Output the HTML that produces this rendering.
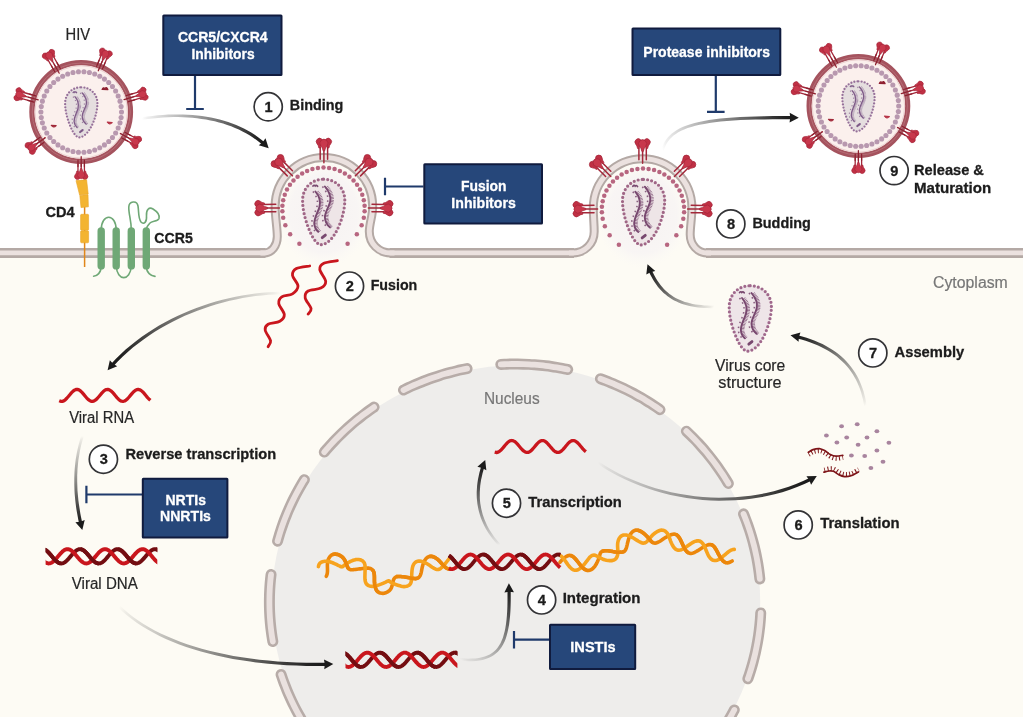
<!DOCTYPE html>
<html lang="en"><head><meta charset="utf-8"><title>HIV life cycle and antiretroviral drug targets</title>
<style>
html,body{margin:0;padding:0;background:#fff;}
body{width:1024px;height:717px;overflow:hidden;}
svg{display:block;}
text{font-family:"Liberation Sans",sans-serif;}
svg{will-change:transform;}
</style></head><body>
<svg width="1024" height="717" viewBox="0 0 1024 717">
<defs>
<g id="spike"><path d="M-3.7,5.7 V-6 M3.7,5.7 V-6 M0,9.3 V-4" stroke="#A3283A" stroke-width="1.5" fill="none" stroke-linecap="round"/><path d="M-6.94,-9.84 A3.35,3.35 0 1 1 -1.66,-9.84 Q-3.13,-8.38 -3.55,-5.50 L-5.05,-5.50 Q-5.47,-8.38 -6.94,-9.84 Z" fill="#C03044" stroke="#A52438" stroke-width="0.7"/><path d="M1.66,-9.84 A3.35,3.35 0 1 1 6.94,-9.84 Q5.47,-8.38 5.05,-5.50 L3.55,-5.50 Q3.13,-8.38 1.66,-9.84 Z" fill="#C03044" stroke="#A52438" stroke-width="0.7"/><path d="M-3.15,-7.74 A4.0,4.0 0 1 1 3.15,-7.74 Q1.40,-6.00 0.75,-2.60 L-0.75,-2.60 Q-1.40,-6.00 -3.15,-7.74 Z" fill="#C8384C" stroke="#A52438" stroke-width="0.7"/></g>

<g id="capsidA">
  <path d="M0,-32.7 C12,-32.7 21.2,-24 21.2,-11.5 C21.2,2 14,22 5.5,29 C2.5,31.8 -0.5,32.8 -2.6,32.8 C-6,32.8 -10,28 -13.5,20 C-17,12 -21,0 -21,-11.5 C-21,-24 -12,-32.7 0,-32.7 Z" fill="#EEE5E8"/>
  <path d="M0,-32.7 C12,-32.7 21.2,-24 21.2,-11.5 C21.2,2 14,22 5.5,29 C2.5,31.8 -0.5,32.8 -2.6,32.8 C-6,32.8 -10,28 -13.5,20 C-17,12 -21,0 -21,-11.5 C-21,-24 -12,-32.7 0,-32.7 Z" fill="none" stroke="#A0688C" stroke-width="3.2" stroke-linecap="round" stroke-dasharray="0 4.12"/>
  <g fill="none" stroke="#78486F">
    <path d="M-8.2,-20.4 C-4.5,-16 -2.6,-11 -4.2,-5 C-5.8,1 -9.6,6 -9.3,12 C-9.1,15 -7.5,18 -5.4,19.8" stroke-width="1.9" stroke-linecap="round"/>
    <path d="M-8.2,-20.4 C-4.5,-16 -2.6,-11 -4.2,-5 C-5.8,1 -9.6,6 -9.3,12 C-9.1,15 -7.5,18 -5.4,19.8" stroke-width="3.2" stroke-dasharray="0.7 0.75" opacity="0.85" transform="translate(1.9,0.3)"/>
    <path d="M-8.2,-20.4 C-4.5,-16 -2.6,-11 -4.2,-5 C-5.8,1 -9.6,6 -9.3,12 C-9.1,15 -7.5,18 -5.4,19.8" stroke-width="1.6" stroke-dasharray="1.5 3.6" opacity="0.85" transform="translate(-2.5,0)"/>
    <path d="M1.3,-25.4 C5,-21 7.6,-16 6.6,-10.5 C5.5,-5 1.2,0 1.3,5.3 C1.4,9.5 3.5,13 6.3,15.3" stroke-width="1.9" stroke-linecap="round"/>
    <path d="M1.3,-25.4 C5,-21 7.6,-16 6.6,-10.5 C5.5,-5 1.2,0 1.3,5.3 C1.4,9.5 3.5,13 6.3,15.3" stroke-width="3.2" stroke-dasharray="0.7 0.75" opacity="0.85" transform="translate(1.9,0.3)"/>
    <path d="M1.3,-25.4 C5,-21 7.6,-16 6.6,-10.5 C5.5,-5 1.2,0 1.3,5.3 C1.4,9.5 3.5,13 6.3,15.3" stroke-width="1.6" stroke-dasharray="1.5 3.6" opacity="0.85" transform="translate(-2.5,0)"/>
    <path d="M-10.6,-25.8 q1.2,-1.6 2.2,-0.2 q1.2,-1.4 2.4,0.4" stroke-width="1.7" stroke-linecap="round"/>
    <path d="M-1.4,25.8 l3.2,-2.6" stroke-width="2.8" stroke-linecap="round"/>
  </g>
</g>

<g id="capsidB">
  <path d="M0,-32.7 C12,-32.7 21.2,-24 21.2,-11.5 C21.2,2 14,22 5.5,29 C2.5,31.8 -0.5,32.8 -2.6,32.8 C-6,32.8 -10,28 -13.5,20 C-17,12 -21,0 -21,-11.5 C-21,-24 -12,-32.7 0,-32.7 Z" fill="#EEE5E7"/>
  <path d="M0,-32.7 C12,-32.7 21.2,-24 21.2,-11.5 C21.2,2 14,22 5.5,29 C2.5,31.8 -0.5,32.8 -2.6,32.8 C-6,32.8 -10,28 -13.5,20 C-17,12 -21,0 -21,-11.5 C-21,-24 -12,-32.7 0,-32.7 Z" fill="none" stroke="#A06686" stroke-width="3.2" stroke-linecap="round" stroke-dasharray="0 4.12"/>
  <g fill="none" stroke="#78486F">
    <path d="M-8.2,-20.4 C-4.5,-16 -2.6,-11 -4.2,-5 C-5.8,1 -9.6,6 -9.3,12 C-9.1,15 -7.5,18 -5.4,19.8" stroke-width="1.9" stroke-linecap="round"/>
    <path d="M-8.2,-20.4 C-4.5,-16 -2.6,-11 -4.2,-5 C-5.8,1 -9.6,6 -9.3,12 C-9.1,15 -7.5,18 -5.4,19.8" stroke-width="3.2" stroke-dasharray="0.7 0.75" opacity="0.85" transform="translate(1.9,0.3)"/>
    <path d="M-8.2,-20.4 C-4.5,-16 -2.6,-11 -4.2,-5 C-5.8,1 -9.6,6 -9.3,12 C-9.1,15 -7.5,18 -5.4,19.8" stroke-width="1.6" stroke-dasharray="1.5 3.6" opacity="0.85" transform="translate(-2.5,0)"/>
    <path d="M1.3,-25.4 C5,-21 7.6,-16 6.6,-10.5 C5.5,-5 1.2,0 1.3,5.3 C1.4,9.5 3.5,13 6.3,15.3" stroke-width="1.9" stroke-linecap="round"/>
    <path d="M1.3,-25.4 C5,-21 7.6,-16 6.6,-10.5 C5.5,-5 1.2,0 1.3,5.3 C1.4,9.5 3.5,13 6.3,15.3" stroke-width="3.2" stroke-dasharray="0.7 0.75" opacity="0.85" transform="translate(1.9,0.3)"/>
    <path d="M1.3,-25.4 C5,-21 7.6,-16 6.6,-10.5 C5.5,-5 1.2,0 1.3,5.3 C1.4,9.5 3.5,13 6.3,15.3" stroke-width="1.6" stroke-dasharray="1.5 3.6" opacity="0.85" transform="translate(-2.5,0)"/>
    <path d="M-10.6,-25.8 q1.2,-1.6 2.2,-0.2 q1.2,-1.4 2.4,0.4" stroke-width="1.7" stroke-linecap="round"/>
    <path d="M-1.4,25.8 l3.2,-2.6" stroke-width="2.8" stroke-linecap="round"/>
  </g>
</g>

<g id="capsidV">
  <path d="M0,-32.7 C12,-32.7 21.2,-24 21.2,-11.5 C21.2,2 14,22 5.5,29 C2.5,31.8 -0.5,32.8 -2.6,32.8 C-6,32.8 -10,28 -13.5,20 C-17,12 -21,0 -21,-11.5 C-21,-24 -12,-32.7 0,-32.7 Z" fill="#E5DEDF"/>
  <path d="M0,-32.7 C12,-32.7 21.2,-24 21.2,-11.5 C21.2,2 14,22 5.5,29 C2.5,31.8 -0.5,32.8 -2.6,32.8 C-6,32.8 -10,28 -13.5,20 C-17,12 -21,0 -21,-11.5 C-21,-24 -12,-32.7 0,-32.7 Z" fill="none" stroke="#96709A" stroke-width="3.0" stroke-linecap="round" stroke-dasharray="0 4.12"/>
  <g fill="none" stroke="#7E5A88">
    <path d="M-8.2,-20.4 C-4.5,-16 -2.6,-11 -4.2,-5 C-5.8,1 -9.6,6 -9.3,12 C-9.1,15 -7.5,18 -5.4,19.8" stroke-width="1.7" stroke-linecap="round"/>
    <path d="M-8.2,-20.4 C-4.5,-16 -2.6,-11 -4.2,-5 C-5.8,1 -9.6,6 -9.3,12 C-9.1,15 -7.5,18 -5.4,19.8" stroke-width="3.2" stroke-dasharray="0.7 0.75" opacity="0.7" transform="translate(1.9,0.3)"/>
    <path d="M-8.2,-20.4 C-4.5,-16 -2.6,-11 -4.2,-5 C-5.8,1 -9.6,6 -9.3,12 C-9.1,15 -7.5,18 -5.4,19.8" stroke-width="1.6" stroke-dasharray="1.5 3.6" opacity="0.7" transform="translate(-2.5,0)"/>
    <path d="M1.3,-25.4 C5,-21 7.6,-16 6.6,-10.5 C5.5,-5 1.2,0 1.3,5.3 C1.4,9.5 3.5,13 6.3,15.3" stroke-width="1.7" stroke-linecap="round"/>
    <path d="M1.3,-25.4 C5,-21 7.6,-16 6.6,-10.5 C5.5,-5 1.2,0 1.3,5.3 C1.4,9.5 3.5,13 6.3,15.3" stroke-width="3.2" stroke-dasharray="0.7 0.75" opacity="0.7" transform="translate(1.9,0.3)"/>
    <path d="M1.3,-25.4 C5,-21 7.6,-16 6.6,-10.5 C5.5,-5 1.2,0 1.3,5.3 C1.4,9.5 3.5,13 6.3,15.3" stroke-width="1.6" stroke-dasharray="1.5 3.6" opacity="0.7" transform="translate(-2.5,0)"/>
    <path d="M-10.6,-25.8 q1.2,-1.6 2.2,-0.2 q1.2,-1.4 2.4,0.4" stroke-width="1.7" stroke-linecap="round"/>
    <path d="M-1.4,25.8 l3.2,-2.6" stroke-width="2.8" stroke-linecap="round"/>
  </g>
</g>
<g id="virion">
<circle r="50" fill="#FBF0ED"/>
<use href="#spike" transform="rotate(-29.5) translate(0,-56.2) scale(0.87)"/>
<use href="#spike" transform="rotate(22.5) translate(0,-54.2) scale(0.87)"/>
<use href="#spike" transform="rotate(73.8) translate(0,-55.2) scale(0.87)"/>
<use href="#spike" transform="rotate(118.7) translate(0,-53.2) scale(0.87)"/>
<use href="#spike" transform="rotate(180) translate(0,-54.2) scale(0.87)"/>
<use href="#spike" transform="rotate(-125.5) translate(0,-52.4) scale(0.87)"/>
<use href="#spike" transform="rotate(-74.3) translate(0,-55.4) scale(0.87)"/>
<circle r="49.3" fill="none" stroke="#A5535E" stroke-width="5.2"/>
<circle r="49.0" fill="none" stroke="#B56C75" stroke-width="1.0"/>
<circle r="46.2" fill="none" stroke="#EBD0D0" stroke-width="1.0"/>
<path transform="rotate(-29.5) translate(0,-51.6)" d="M-3.2,3.5 V-3 M3.2,3.5 V-3 M0,7 V-3" stroke="#8E1F2E" stroke-width="1.2" fill="none" stroke-linecap="round"/>
<path transform="rotate(22.5) translate(0,-51.6)" d="M-3.2,3.5 V-3 M3.2,3.5 V-3 M0,7 V-3" stroke="#8E1F2E" stroke-width="1.2" fill="none" stroke-linecap="round"/>
<path transform="rotate(73.8) translate(0,-51.6)" d="M-3.2,3.5 V-3 M3.2,3.5 V-3 M0,7 V-3" stroke="#8E1F2E" stroke-width="1.2" fill="none" stroke-linecap="round"/>
<path transform="rotate(118.7) translate(0,-51.6)" d="M-3.2,3.5 V-3 M3.2,3.5 V-3 M0,7 V-3" stroke="#8E1F2E" stroke-width="1.2" fill="none" stroke-linecap="round"/>
<path transform="rotate(180) translate(0,-51.6)" d="M-3.2,3.5 V-3 M3.2,3.5 V-3 M0,7 V-3" stroke="#8E1F2E" stroke-width="1.2" fill="none" stroke-linecap="round"/>
<path transform="rotate(-125.5) translate(0,-51.6)" d="M-3.2,3.5 V-3 M3.2,3.5 V-3 M0,7 V-3" stroke="#8E1F2E" stroke-width="1.2" fill="none" stroke-linecap="round"/>
<path transform="rotate(-74.3) translate(0,-51.6)" d="M-3.2,3.5 V-3 M3.2,3.5 V-3 M0,7 V-3" stroke="#8E1F2E" stroke-width="1.2" fill="none" stroke-linecap="round"/>
<circle cx="40.30" cy="0.00" r="2.55" fill="#B898AF"/>
<circle cx="39.92" cy="5.49" r="2.55" fill="#B898AF"/>
<circle cx="38.81" cy="10.87" r="2.55" fill="#B898AF"/>
<circle cx="36.96" cy="16.06" r="2.55" fill="#B898AF"/>
<circle cx="34.43" cy="20.94" r="2.55" fill="#B898AF"/>
<circle cx="31.26" cy="25.43" r="2.55" fill="#B898AF"/>
<circle cx="27.51" cy="29.45" r="2.55" fill="#B898AF"/>
<circle cx="23.24" cy="32.92" r="2.55" fill="#B898AF"/>
<circle cx="18.54" cy="35.78" r="2.55" fill="#B898AF"/>
<circle cx="13.50" cy="37.97" r="2.55" fill="#B898AF"/>
<circle cx="8.20" cy="39.46" r="2.55" fill="#B898AF"/>
<circle cx="2.75" cy="40.21" r="2.55" fill="#B898AF"/>
<circle cx="-2.75" cy="40.21" r="2.55" fill="#B898AF"/>
<circle cx="-8.20" cy="39.46" r="2.55" fill="#B898AF"/>
<circle cx="-13.50" cy="37.97" r="2.55" fill="#B898AF"/>
<circle cx="-18.54" cy="35.78" r="2.55" fill="#B898AF"/>
<circle cx="-23.24" cy="32.92" r="2.55" fill="#B898AF"/>
<circle cx="-27.51" cy="29.45" r="2.55" fill="#B898AF"/>
<circle cx="-31.26" cy="25.43" r="2.55" fill="#B898AF"/>
<circle cx="-34.43" cy="20.94" r="2.55" fill="#B898AF"/>
<circle cx="-36.96" cy="16.06" r="2.55" fill="#B898AF"/>
<circle cx="-38.81" cy="10.87" r="2.55" fill="#B898AF"/>
<circle cx="-39.92" cy="5.49" r="2.55" fill="#B898AF"/>
<circle cx="-40.30" cy="0.00" r="2.55" fill="#B898AF"/>
<circle cx="-39.92" cy="-5.49" r="2.55" fill="#B898AF"/>
<circle cx="-38.81" cy="-10.87" r="2.55" fill="#B898AF"/>
<circle cx="-36.96" cy="-16.06" r="2.55" fill="#B898AF"/>
<circle cx="-34.43" cy="-20.94" r="2.55" fill="#B898AF"/>
<circle cx="-31.26" cy="-25.43" r="2.55" fill="#B898AF"/>
<circle cx="-27.51" cy="-29.45" r="2.55" fill="#B898AF"/>
<circle cx="-23.24" cy="-32.92" r="2.55" fill="#B898AF"/>
<circle cx="-18.54" cy="-35.78" r="2.55" fill="#B898AF"/>
<circle cx="-13.50" cy="-37.97" r="2.55" fill="#B898AF"/>
<circle cx="-8.20" cy="-39.46" r="2.55" fill="#B898AF"/>
<circle cx="-2.75" cy="-40.21" r="2.55" fill="#B898AF"/>
<circle cx="2.75" cy="-40.21" r="2.55" fill="#B898AF"/>
<circle cx="8.20" cy="-39.46" r="2.55" fill="#B898AF"/>
<circle cx="13.50" cy="-37.97" r="2.55" fill="#B898AF"/>
<circle cx="18.54" cy="-35.78" r="2.55" fill="#B898AF"/>
<circle cx="23.24" cy="-32.92" r="2.55" fill="#B898AF"/>
<circle cx="27.51" cy="-29.45" r="2.55" fill="#B898AF"/>
<circle cx="31.26" cy="-25.43" r="2.55" fill="#B898AF"/>
<circle cx="34.43" cy="-20.94" r="2.55" fill="#B898AF"/>
<circle cx="36.96" cy="-16.06" r="2.55" fill="#B898AF"/>
<circle cx="38.81" cy="-10.87" r="2.55" fill="#B898AF"/>
<circle cx="39.92" cy="-5.49" r="2.55" fill="#B898AF"/>
<use href="#capsidV" transform="translate(0,0.3) scale(0.765)"/>
<path d="M20.9,-22.6 q1.4,-3 2.8,-0.6 q1.6,-2.6 3.0,0.8 z" fill="#8E1F30" stroke="#8E1F30" stroke-width="1.2" stroke-linejoin="round"/>
<path d="M-30,13.2 q2.4,3.4 5,0.4 z" fill="#A02838" stroke="#A02838" stroke-width="1.1" stroke-linejoin="round"/>
<path d="M26,10 q2.4,3.4 5,0.6 z" fill="#B53245" stroke="#B53245" stroke-width="1.1" stroke-linejoin="round"/>
</g>
<radialGradient id="glow" cx="0.5" cy="0.5" r="0.5"><stop offset="0" stop-color="#F6F2F2"/><stop offset="0.72" stop-color="#F8F5F4" stop-opacity="0.95"/><stop offset="1" stop-color="#FBF9F5" stop-opacity="0"/></radialGradient>
<clipPath id="hc1"><rect x="45.6" y="540" width="111.7" height="34"/></clipPath>
<clipPath id="hc2"><rect x="345.5" y="643" width="111.9" height="34"/></clipPath>
<linearGradient id="ag1" gradientUnits="userSpaceOnUse" x1="142" y1="118.5" x2="268.7" y2="148.2"><stop offset="0" stop-color="#1B1B1B" stop-opacity="0.0"/><stop offset="0.04" stop-color="#1B1B1B" stop-opacity="0.07"/><stop offset="0.5" stop-color="#1B1B1B" stop-opacity="0.53"/><stop offset="0.9" stop-color="#1B1B1B" stop-opacity="0.97"/><stop offset="0.95" stop-color="#1B1B1B" stop-opacity="1.0"/><stop offset="1" stop-color="#1B1B1B" stop-opacity="1.0"/></linearGradient>
<linearGradient id="ag2" gradientUnits="userSpaceOnUse" x1="281" y1="293" x2="107.6" y2="370.3"><stop offset="0" stop-color="#1B1B1B" stop-opacity="0.0"/><stop offset="0.04" stop-color="#1B1B1B" stop-opacity="0.07"/><stop offset="0.5" stop-color="#1B1B1B" stop-opacity="0.53"/><stop offset="0.9" stop-color="#1B1B1B" stop-opacity="0.97"/><stop offset="0.95" stop-color="#1B1B1B" stop-opacity="1.0"/><stop offset="1" stop-color="#1B1B1B" stop-opacity="1.0"/></linearGradient>
<linearGradient id="ag3" gradientUnits="userSpaceOnUse" x1="82.5" y1="436" x2="82.3" y2="530"><stop offset="0" stop-color="#1B1B1B" stop-opacity="0.0"/><stop offset="0.04" stop-color="#1B1B1B" stop-opacity="0.07"/><stop offset="0.5" stop-color="#1B1B1B" stop-opacity="0.53"/><stop offset="0.9" stop-color="#1B1B1B" stop-opacity="0.97"/><stop offset="0.95" stop-color="#1B1B1B" stop-opacity="1.0"/><stop offset="1" stop-color="#1B1B1B" stop-opacity="1.0"/></linearGradient>
<linearGradient id="ag4" gradientUnits="userSpaceOnUse" x1="119" y1="606.5" x2="333.3" y2="664.1"><stop offset="0" stop-color="#1B1B1B" stop-opacity="0.0"/><stop offset="0.04" stop-color="#1B1B1B" stop-opacity="0.07"/><stop offset="0.5" stop-color="#1B1B1B" stop-opacity="0.53"/><stop offset="0.9" stop-color="#1B1B1B" stop-opacity="0.97"/><stop offset="0.95" stop-color="#1B1B1B" stop-opacity="1.0"/><stop offset="1" stop-color="#1B1B1B" stop-opacity="1.0"/></linearGradient>
<linearGradient id="ag5" gradientUnits="userSpaceOnUse" x1="460" y1="659.5" x2="508.9" y2="583.2"><stop offset="0" stop-color="#1B1B1B" stop-opacity="0.0"/><stop offset="0.04" stop-color="#1B1B1B" stop-opacity="0.07"/><stop offset="0.5" stop-color="#1B1B1B" stop-opacity="0.53"/><stop offset="0.9" stop-color="#1B1B1B" stop-opacity="0.97"/><stop offset="0.95" stop-color="#1B1B1B" stop-opacity="1.0"/><stop offset="1" stop-color="#1B1B1B" stop-opacity="1.0"/></linearGradient>
<linearGradient id="ag6" gradientUnits="userSpaceOnUse" x1="499.5" y1="545" x2="485.2" y2="460"><stop offset="0" stop-color="#1B1B1B" stop-opacity="0.0"/><stop offset="0.04" stop-color="#1B1B1B" stop-opacity="0.07"/><stop offset="0.5" stop-color="#1B1B1B" stop-opacity="0.53"/><stop offset="0.9" stop-color="#1B1B1B" stop-opacity="0.97"/><stop offset="0.95" stop-color="#1B1B1B" stop-opacity="1.0"/><stop offset="1" stop-color="#1B1B1B" stop-opacity="1.0"/></linearGradient>
<linearGradient id="ag7" gradientUnits="userSpaceOnUse" x1="598" y1="462.5" x2="816.8" y2="476"><stop offset="0" stop-color="#1B1B1B" stop-opacity="0.0"/><stop offset="0.04" stop-color="#1B1B1B" stop-opacity="0.07"/><stop offset="0.5" stop-color="#1B1B1B" stop-opacity="0.53"/><stop offset="0.9" stop-color="#1B1B1B" stop-opacity="0.97"/><stop offset="0.95" stop-color="#1B1B1B" stop-opacity="1.0"/><stop offset="1" stop-color="#1B1B1B" stop-opacity="1.0"/></linearGradient>
<linearGradient id="ag8" gradientUnits="userSpaceOnUse" x1="865.5" y1="406" x2="790.5" y2="335.3"><stop offset="0" stop-color="#1B1B1B" stop-opacity="0.0"/><stop offset="0.04" stop-color="#1B1B1B" stop-opacity="0.07"/><stop offset="0.5" stop-color="#1B1B1B" stop-opacity="0.53"/><stop offset="0.9" stop-color="#1B1B1B" stop-opacity="0.97"/><stop offset="0.95" stop-color="#1B1B1B" stop-opacity="1.0"/><stop offset="1" stop-color="#1B1B1B" stop-opacity="1.0"/></linearGradient>
<linearGradient id="ag9" gradientUnits="userSpaceOnUse" x1="714" y1="307" x2="647.5" y2="264.2"><stop offset="0" stop-color="#1B1B1B" stop-opacity="0.0"/><stop offset="0.04" stop-color="#1B1B1B" stop-opacity="0.07"/><stop offset="0.5" stop-color="#1B1B1B" stop-opacity="0.53"/><stop offset="0.9" stop-color="#1B1B1B" stop-opacity="0.97"/><stop offset="0.95" stop-color="#1B1B1B" stop-opacity="1.0"/><stop offset="1" stop-color="#1B1B1B" stop-opacity="1.0"/></linearGradient>
<linearGradient id="ag10" gradientUnits="userSpaceOnUse" x1="662.5" y1="150" x2="798.8" y2="117.8"><stop offset="0" stop-color="#1B1B1B" stop-opacity="0.0"/><stop offset="0.04" stop-color="#1B1B1B" stop-opacity="0.07"/><stop offset="0.5" stop-color="#1B1B1B" stop-opacity="0.53"/><stop offset="0.9" stop-color="#1B1B1B" stop-opacity="0.97"/><stop offset="0.95" stop-color="#1B1B1B" stop-opacity="1.0"/><stop offset="1" stop-color="#1B1B1B" stop-opacity="1.0"/></linearGradient>
</defs>
<rect x="0" y="0" width="1024" height="717" fill="#FFFFFF"/>
<path d="M-10,252.9 H264.5 C271.67,252.9 277.30,245.68 277.30,236.50 C277.30,228.50 275.10,216.40 275.10,206.40 A48.8,48.8 0 0 1 372.70,206.40 C372.70,216.40 369.30,223.50 369.30,231.50 C369.30,243.48 378.63,252.9 390.5,252.9 H573.0 C584.87,252.9 594.20,243.48 594.20,231.50 C594.20,223.50 593.30,218.00 593.30,208.00 A49.3,49.3 0 0 1 691.90,208.00 C691.90,218.00 690.20,226.50 690.20,234.50 C690.20,244.80 697.59,252.9 707.0,252.9 H1034 V727 H-10 Z" fill="#FDFBF4"/>
<ellipse cx="323.9" cy="213.3" rx="47.5" ry="54" fill="url(#glow)"/>
<ellipse cx="642.6" cy="214.3" rx="47.5" ry="54" fill="url(#glow)"/>
<ellipse cx="516.0" cy="602.0" rx="244.2" ry="236.6" fill="#EEEDEB"/>
<path d="M500.81,364.41 C501.74,364.37 504.54,364.22 506.41,364.15 C508.28,364.09 510.15,364.04 512.02,364.02 C513.89,364.00 515.76,363.99 517.62,364.01 C519.49,364.03 521.36,364.07 523.23,364.13 C525.10,364.19 526.97,364.27 528.84,364.37 C530.70,364.47 532.57,364.59 534.43,364.73 C536.30,364.87 538.16,365.03 540.02,365.22 C541.88,365.40 543.74,365.60 545.59,365.83 C547.45,366.05 549.30,366.29 551.15,366.56 C553.00,366.82 554.85,367.11 556.70,367.42 C558.54,367.72 560.38,368.05 562.22,368.39 C564.06,368.74 566.80,369.31 567.72,369.50 M600.44,378.77 C601.31,379.09 603.95,380.05 605.70,380.72 C607.44,381.39 609.18,382.08 610.91,382.78 C612.64,383.49 614.36,384.22 616.07,384.97 C617.79,385.71 619.49,386.48 621.19,387.26 C622.89,388.05 624.58,388.85 626.25,389.68 C627.93,390.50 629.60,391.34 631.26,392.20 C632.92,393.06 634.57,393.94 636.21,394.84 C637.85,395.74 639.48,396.65 641.10,397.59 C642.72,398.52 644.33,399.48 645.92,400.45 C647.52,401.42 649.11,402.41 650.68,403.42 C652.26,404.42 653.82,405.45 655.37,406.49 C656.92,407.53 659.22,409.14 659.99,409.67 M686.34,431.17 C687.02,431.81 689.05,433.74 690.38,435.05 C691.72,436.36 693.03,437.69 694.34,439.03 C695.64,440.37 696.92,441.73 698.19,443.10 C699.47,444.47 700.72,445.86 701.96,447.26 C703.20,448.66 704.42,450.08 705.62,451.51 C706.83,452.94 708.02,454.38 709.19,455.84 C710.36,457.29 711.51,458.76 712.65,460.25 C713.78,461.73 714.90,463.23 716.00,464.74 C717.11,466.25 718.19,467.78 719.26,469.31 C720.32,470.85 721.37,472.40 722.40,473.96 C723.43,475.52 724.44,477.09 725.43,478.68 C726.42,480.26 727.86,482.67 728.35,483.47 M743.53,513.89 C743.88,514.76 744.94,517.35 745.61,519.10 C746.28,520.84 746.93,522.60 747.55,524.36 C748.18,526.12 748.79,527.89 749.37,529.66 C749.96,531.44 750.52,533.22 751.06,535.01 C751.60,536.80 752.13,538.60 752.62,540.40 C753.12,542.20 753.60,544.01 754.05,545.82 C754.51,547.63 754.94,549.45 755.35,551.28 C755.76,553.10 756.15,554.93 756.52,556.76 C756.89,558.59 757.23,560.43 757.55,562.27 C757.87,564.12 758.17,565.96 758.45,567.81 C758.73,569.66 758.98,571.51 759.21,573.37 C759.45,575.22 759.74,578.01 759.84,578.94 M760.74,612.93 C760.68,613.86 760.54,616.66 760.41,618.53 C760.27,620.39 760.12,622.26 759.94,624.12 C759.76,625.98 759.56,627.84 759.33,629.69 C759.11,631.55 758.86,633.40 758.59,635.25 C758.32,637.10 758.03,638.95 757.71,640.79 C757.40,642.63 757.06,644.47 756.70,646.31 C756.34,648.14 755.96,649.97 755.56,651.80 C755.16,653.62 754.73,655.44 754.28,657.26 C753.84,659.07 753.37,660.88 752.88,662.69 C752.38,664.49 751.87,666.29 751.34,668.08 C750.80,669.87 750.25,671.66 749.67,673.43 C749.09,675.21 748.17,677.86 747.87,678.75 M734.28,709.92 C733.84,710.74 732.52,713.21 731.61,714.85 C730.70,716.48 729.78,718.11 728.83,719.72 C727.88,721.33 726.91,722.93 725.93,724.52 C724.94,726.11 723.94,727.68 722.92,729.25 C721.90,730.81 720.85,732.37 719.79,733.91 C718.74,735.45 717.66,736.98 716.56,738.49 C715.47,740.00 714.35,741.51 713.22,743.00 C712.09,744.48 710.94,745.96 709.78,747.42 C708.61,748.88 707.43,750.33 706.23,751.77 C705.03,753.20 703.82,754.62 702.59,756.03 C701.35,757.43 700.10,758.82 698.84,760.20 C697.57,761.58 695.64,763.60 695.00,764.28 M311.04,734.53 C310.51,733.76 308.93,731.44 307.90,729.88 C306.87,728.32 305.86,726.75 304.87,725.16 C303.88,723.58 302.91,721.98 301.96,720.37 C301.00,718.76 300.07,717.14 299.16,715.51 C298.24,713.88 297.35,712.24 296.47,710.59 C295.60,708.93 294.74,707.27 293.91,705.60 C293.07,703.93 292.26,702.24 291.46,700.55 C290.67,698.86 289.89,697.16 289.14,695.45 C288.39,693.74 287.65,692.02 286.94,690.29 C286.23,688.56 285.53,686.82 284.86,685.08 C284.19,683.34 283.54,681.58 282.91,679.82 C282.28,678.06 281.39,675.40 281.09,674.52 M272.82,641.54 C272.67,640.61 272.20,637.85 271.92,636.00 C271.65,634.15 271.39,632.30 271.16,630.44 C270.93,628.59 270.72,626.73 270.54,624.87 C270.35,623.01 270.19,621.15 270.05,619.28 C269.91,617.42 269.79,615.55 269.70,613.69 C269.60,611.82 269.53,609.95 269.48,608.08 C269.43,606.21 269.40,604.34 269.40,602.48 C269.40,600.61 269.42,598.74 269.46,596.87 C269.50,595.00 269.56,593.13 269.65,591.26 C269.74,589.40 269.85,587.53 269.98,585.66 C270.11,583.80 270.27,581.94 270.45,580.07 C270.62,578.21 270.95,575.43 271.05,574.50 M277.58,541.13 C277.83,540.23 278.58,537.53 279.12,535.74 C279.65,533.95 280.21,532.16 280.79,530.38 C281.37,528.61 281.97,526.84 282.59,525.07 C283.22,523.31 283.86,521.56 284.52,519.81 C285.19,518.06 285.87,516.32 286.58,514.59 C287.28,512.86 288.01,511.14 288.76,509.42 C289.51,507.71 290.27,506.00 291.06,504.31 C291.85,502.61 292.66,500.93 293.49,499.25 C294.31,497.58 295.16,495.91 296.03,494.25 C296.90,492.60 297.79,490.95 298.69,489.32 C299.60,487.68 300.53,486.06 301.47,484.45 C302.42,482.84 303.89,480.45 304.37,479.65 M324.29,452.09 C324.90,451.38 326.71,449.23 327.94,447.83 C329.17,446.43 330.42,445.04 331.69,443.66 C332.96,442.28 334.24,440.92 335.54,439.58 C336.83,438.23 338.15,436.90 339.48,435.59 C340.80,434.27 342.15,432.97 343.51,431.69 C344.87,430.40 346.24,429.13 347.63,427.88 C349.01,426.63 350.42,425.39 351.83,424.17 C353.25,422.95 354.68,421.75 356.12,420.56 C357.57,419.38 359.03,418.20 360.50,417.05 C361.97,415.90 363.45,414.76 364.95,413.64 C366.45,412.52 367.96,411.42 369.48,410.33 C371.00,409.25 373.32,407.66 374.08,407.13 M403.47,390.01 C404.31,389.61 406.83,388.37 408.52,387.58 C410.22,386.79 411.92,386.02 413.63,385.27 C415.34,384.52 417.06,383.78 418.79,383.07 C420.52,382.36 422.25,381.66 424.00,380.99 C425.74,380.32 427.49,379.66 429.25,379.02 C431.01,378.39 432.77,377.77 434.55,377.18 C436.32,376.58 438.10,376.01 439.88,375.45 C441.67,374.89 443.46,374.36 445.25,373.84 C447.05,373.32 448.85,372.83 450.66,372.35 C452.47,371.87 454.28,371.42 456.10,370.98 C457.92,370.55 459.74,370.13 461.57,369.73 C463.39,369.34 466.14,368.80 467.06,368.61" fill="none" stroke="#B7ACA8" stroke-width="11.0" stroke-linecap="round"/>
<path d="M500.81,364.41 C501.74,364.37 504.54,364.22 506.41,364.15 C508.28,364.09 510.15,364.04 512.02,364.02 C513.89,364.00 515.76,363.99 517.62,364.01 C519.49,364.03 521.36,364.07 523.23,364.13 C525.10,364.19 526.97,364.27 528.84,364.37 C530.70,364.47 532.57,364.59 534.43,364.73 C536.30,364.87 538.16,365.03 540.02,365.22 C541.88,365.40 543.74,365.60 545.59,365.83 C547.45,366.05 549.30,366.29 551.15,366.56 C553.00,366.82 554.85,367.11 556.70,367.42 C558.54,367.72 560.38,368.05 562.22,368.39 C564.06,368.74 566.80,369.31 567.72,369.50 M600.44,378.77 C601.31,379.09 603.95,380.05 605.70,380.72 C607.44,381.39 609.18,382.08 610.91,382.78 C612.64,383.49 614.36,384.22 616.07,384.97 C617.79,385.71 619.49,386.48 621.19,387.26 C622.89,388.05 624.58,388.85 626.25,389.68 C627.93,390.50 629.60,391.34 631.26,392.20 C632.92,393.06 634.57,393.94 636.21,394.84 C637.85,395.74 639.48,396.65 641.10,397.59 C642.72,398.52 644.33,399.48 645.92,400.45 C647.52,401.42 649.11,402.41 650.68,403.42 C652.26,404.42 653.82,405.45 655.37,406.49 C656.92,407.53 659.22,409.14 659.99,409.67 M686.34,431.17 C687.02,431.81 689.05,433.74 690.38,435.05 C691.72,436.36 693.03,437.69 694.34,439.03 C695.64,440.37 696.92,441.73 698.19,443.10 C699.47,444.47 700.72,445.86 701.96,447.26 C703.20,448.66 704.42,450.08 705.62,451.51 C706.83,452.94 708.02,454.38 709.19,455.84 C710.36,457.29 711.51,458.76 712.65,460.25 C713.78,461.73 714.90,463.23 716.00,464.74 C717.11,466.25 718.19,467.78 719.26,469.31 C720.32,470.85 721.37,472.40 722.40,473.96 C723.43,475.52 724.44,477.09 725.43,478.68 C726.42,480.26 727.86,482.67 728.35,483.47 M743.53,513.89 C743.88,514.76 744.94,517.35 745.61,519.10 C746.28,520.84 746.93,522.60 747.55,524.36 C748.18,526.12 748.79,527.89 749.37,529.66 C749.96,531.44 750.52,533.22 751.06,535.01 C751.60,536.80 752.13,538.60 752.62,540.40 C753.12,542.20 753.60,544.01 754.05,545.82 C754.51,547.63 754.94,549.45 755.35,551.28 C755.76,553.10 756.15,554.93 756.52,556.76 C756.89,558.59 757.23,560.43 757.55,562.27 C757.87,564.12 758.17,565.96 758.45,567.81 C758.73,569.66 758.98,571.51 759.21,573.37 C759.45,575.22 759.74,578.01 759.84,578.94 M760.74,612.93 C760.68,613.86 760.54,616.66 760.41,618.53 C760.27,620.39 760.12,622.26 759.94,624.12 C759.76,625.98 759.56,627.84 759.33,629.69 C759.11,631.55 758.86,633.40 758.59,635.25 C758.32,637.10 758.03,638.95 757.71,640.79 C757.40,642.63 757.06,644.47 756.70,646.31 C756.34,648.14 755.96,649.97 755.56,651.80 C755.16,653.62 754.73,655.44 754.28,657.26 C753.84,659.07 753.37,660.88 752.88,662.69 C752.38,664.49 751.87,666.29 751.34,668.08 C750.80,669.87 750.25,671.66 749.67,673.43 C749.09,675.21 748.17,677.86 747.87,678.75 M734.28,709.92 C733.84,710.74 732.52,713.21 731.61,714.85 C730.70,716.48 729.78,718.11 728.83,719.72 C727.88,721.33 726.91,722.93 725.93,724.52 C724.94,726.11 723.94,727.68 722.92,729.25 C721.90,730.81 720.85,732.37 719.79,733.91 C718.74,735.45 717.66,736.98 716.56,738.49 C715.47,740.00 714.35,741.51 713.22,743.00 C712.09,744.48 710.94,745.96 709.78,747.42 C708.61,748.88 707.43,750.33 706.23,751.77 C705.03,753.20 703.82,754.62 702.59,756.03 C701.35,757.43 700.10,758.82 698.84,760.20 C697.57,761.58 695.64,763.60 695.00,764.28 M311.04,734.53 C310.51,733.76 308.93,731.44 307.90,729.88 C306.87,728.32 305.86,726.75 304.87,725.16 C303.88,723.58 302.91,721.98 301.96,720.37 C301.00,718.76 300.07,717.14 299.16,715.51 C298.24,713.88 297.35,712.24 296.47,710.59 C295.60,708.93 294.74,707.27 293.91,705.60 C293.07,703.93 292.26,702.24 291.46,700.55 C290.67,698.86 289.89,697.16 289.14,695.45 C288.39,693.74 287.65,692.02 286.94,690.29 C286.23,688.56 285.53,686.82 284.86,685.08 C284.19,683.34 283.54,681.58 282.91,679.82 C282.28,678.06 281.39,675.40 281.09,674.52 M272.82,641.54 C272.67,640.61 272.20,637.85 271.92,636.00 C271.65,634.15 271.39,632.30 271.16,630.44 C270.93,628.59 270.72,626.73 270.54,624.87 C270.35,623.01 270.19,621.15 270.05,619.28 C269.91,617.42 269.79,615.55 269.70,613.69 C269.60,611.82 269.53,609.95 269.48,608.08 C269.43,606.21 269.40,604.34 269.40,602.48 C269.40,600.61 269.42,598.74 269.46,596.87 C269.50,595.00 269.56,593.13 269.65,591.26 C269.74,589.40 269.85,587.53 269.98,585.66 C270.11,583.80 270.27,581.94 270.45,580.07 C270.62,578.21 270.95,575.43 271.05,574.50 M277.58,541.13 C277.83,540.23 278.58,537.53 279.12,535.74 C279.65,533.95 280.21,532.16 280.79,530.38 C281.37,528.61 281.97,526.84 282.59,525.07 C283.22,523.31 283.86,521.56 284.52,519.81 C285.19,518.06 285.87,516.32 286.58,514.59 C287.28,512.86 288.01,511.14 288.76,509.42 C289.51,507.71 290.27,506.00 291.06,504.31 C291.85,502.61 292.66,500.93 293.49,499.25 C294.31,497.58 295.16,495.91 296.03,494.25 C296.90,492.60 297.79,490.95 298.69,489.32 C299.60,487.68 300.53,486.06 301.47,484.45 C302.42,482.84 303.89,480.45 304.37,479.65 M324.29,452.09 C324.90,451.38 326.71,449.23 327.94,447.83 C329.17,446.43 330.42,445.04 331.69,443.66 C332.96,442.28 334.24,440.92 335.54,439.58 C336.83,438.23 338.15,436.90 339.48,435.59 C340.80,434.27 342.15,432.97 343.51,431.69 C344.87,430.40 346.24,429.13 347.63,427.88 C349.01,426.63 350.42,425.39 351.83,424.17 C353.25,422.95 354.68,421.75 356.12,420.56 C357.57,419.38 359.03,418.20 360.50,417.05 C361.97,415.90 363.45,414.76 364.95,413.64 C366.45,412.52 367.96,411.42 369.48,410.33 C371.00,409.25 373.32,407.66 374.08,407.13 M403.47,390.01 C404.31,389.61 406.83,388.37 408.52,387.58 C410.22,386.79 411.92,386.02 413.63,385.27 C415.34,384.52 417.06,383.78 418.79,383.07 C420.52,382.36 422.25,381.66 424.00,380.99 C425.74,380.32 427.49,379.66 429.25,379.02 C431.01,378.39 432.77,377.77 434.55,377.18 C436.32,376.58 438.10,376.01 439.88,375.45 C441.67,374.89 443.46,374.36 445.25,373.84 C447.05,373.32 448.85,372.83 450.66,372.35 C452.47,371.87 454.28,371.42 456.10,370.98 C457.92,370.55 459.74,370.13 461.57,369.73 C463.39,369.34 466.14,368.80 467.06,368.61" fill="none" stroke="#EAE1DF" stroke-width="5.8" stroke-linecap="round"/>
<path d="M-10,252.9 H265.5 M389.5,252.9 H574.0 M706.0,252.9 H1023" fill="none" stroke="#B4A9A5" stroke-width="10.0"/>
<path d="M260.5,252.9 H264.5 C271.67,252.9 277.30,245.68 277.30,236.50 C277.30,228.50 275.10,216.40 275.10,206.40 A48.8,48.8 0 0 1 372.70,206.40 C372.70,216.40 369.30,223.50 369.30,231.50 C369.30,243.48 378.63,252.9 390.5,252.9 H394.5 M569.0,252.9 H573.0 C584.87,252.9 594.20,243.48 594.20,231.50 C594.20,223.50 593.30,218.00 593.30,208.00 A49.3,49.3 0 0 1 691.90,208.00 C691.90,218.00 690.20,226.50 690.20,234.50 C690.20,244.80 697.59,252.9 707.0,252.9 H711.0" fill="none" stroke="#B4A9A5" stroke-width="9.0"/>
<path d="M-10,252.9 H265.5 M389.5,252.9 H574.0 M706.0,252.9 H1023" fill="none" stroke="#EBE1DF" stroke-width="4.6"/>
<path d="M260.5,252.9 H264.5 C271.67,252.9 277.30,245.68 277.30,236.50 C277.30,228.50 275.10,216.40 275.10,206.40 A48.8,48.8 0 0 1 372.70,206.40 C372.70,216.40 369.30,223.50 369.30,231.50 C369.30,243.48 378.63,252.9 390.5,252.9 H394.5 M569.0,252.9 H573.0 C584.87,252.9 594.20,243.48 594.20,231.50 C594.20,223.50 593.30,218.00 593.30,208.00 A49.3,49.3 0 0 1 691.90,208.00 C691.90,218.00 690.20,226.50 690.20,234.50 C690.20,244.80 697.59,252.9 707.0,252.9 H711.0" fill="none" stroke="#EBE1DF" stroke-width="5.0"/>
<use href="#spike" transform="translate(323.9,207.3) rotate(0) translate(0,-53.8)"/>
<use href="#spike" transform="translate(323.9,207.3) rotate(-45) translate(0,-53.8)"/>
<use href="#spike" transform="translate(323.9,207.3) rotate(45) translate(0,-53.8)"/>
<use href="#spike" transform="translate(323.9,207.60000000000002) rotate(-90.5) translate(0,-53.8)"/>
<use href="#spike" transform="translate(323.9,207.60000000000002) rotate(90.5) translate(0,-53.8)"/>
<circle cx="282.38" cy="211.29" r="2.25" fill="#B76680"/>
<circle cx="282.41" cy="205.68" r="2.25" fill="#B76680"/>
<circle cx="283.20" cy="200.13" r="2.25" fill="#B76680"/>
<circle cx="284.74" cy="194.74" r="2.25" fill="#B76680"/>
<circle cx="286.99" cy="189.61" r="2.25" fill="#B76680"/>
<circle cx="289.92" cy="184.83" r="2.25" fill="#B76680"/>
<circle cx="293.47" cy="180.50" r="2.25" fill="#B76680"/>
<circle cx="297.57" cy="176.68" r="2.25" fill="#B76680"/>
<circle cx="302.16" cy="173.46" r="2.25" fill="#B76680"/>
<circle cx="307.14" cy="170.89" r="2.25" fill="#B76680"/>
<circle cx="312.42" cy="169.02" r="2.25" fill="#B76680"/>
<circle cx="317.91" cy="167.88" r="2.25" fill="#B76680"/>
<circle cx="323.50" cy="167.50" r="2.25" fill="#B76680"/>
<circle cx="329.09" cy="167.88" r="2.25" fill="#B76680"/>
<circle cx="334.58" cy="169.02" r="2.25" fill="#B76680"/>
<circle cx="339.86" cy="170.89" r="2.25" fill="#B76680"/>
<circle cx="344.84" cy="173.46" r="2.25" fill="#B76680"/>
<circle cx="349.43" cy="176.68" r="2.25" fill="#B76680"/>
<circle cx="353.53" cy="180.50" r="2.25" fill="#B76680"/>
<circle cx="357.08" cy="184.83" r="2.25" fill="#B76680"/>
<circle cx="360.01" cy="189.61" r="2.25" fill="#B76680"/>
<circle cx="362.26" cy="194.74" r="2.25" fill="#B76680"/>
<circle cx="363.80" cy="200.13" r="2.25" fill="#B76680"/>
<circle cx="364.59" cy="205.68" r="2.25" fill="#B76680"/>
<circle cx="364.62" cy="211.29" r="2.25" fill="#B76680"/>
<circle cx="363.80" cy="217.63" r="2.25" fill="#B76680"/>
<circle cx="361.65" cy="225.29" r="2.25" fill="#B76680"/>
<circle cx="356.84" cy="234.28" r="2.25" fill="#B76680"/>
<circle cx="347.61" cy="243.78" r="2.25" fill="#B76680"/>
<circle cx="283.20" cy="217.63" r="2.25" fill="#B76680"/>
<circle cx="285.35" cy="225.29" r="2.25" fill="#B76680"/>
<circle cx="290.16" cy="234.28" r="2.25" fill="#B76680"/>
<circle cx="299.39" cy="243.78" r="2.25" fill="#B76680"/>
<use href="#capsidB" transform="translate(323.59999999999997,211.9)"/>
<use href="#spike" transform="translate(642.6,208.3) rotate(0) translate(0,-54.3)"/>
<use href="#spike" transform="translate(642.6,208.3) rotate(-45) translate(0,-54.3)"/>
<use href="#spike" transform="translate(642.6,208.3) rotate(45) translate(0,-54.3)"/>
<use href="#spike" transform="translate(642.6,208.60000000000002) rotate(-90.5) translate(0,-54.3)"/>
<use href="#spike" transform="translate(642.6,208.60000000000002) rotate(90.5) translate(0,-54.3)"/>
<circle cx="601.88" cy="212.29" r="2.25" fill="#B76680"/>
<circle cx="601.91" cy="206.68" r="2.25" fill="#B76680"/>
<circle cx="602.70" cy="201.13" r="2.25" fill="#B76680"/>
<circle cx="604.24" cy="195.74" r="2.25" fill="#B76680"/>
<circle cx="606.49" cy="190.61" r="2.25" fill="#B76680"/>
<circle cx="609.42" cy="185.83" r="2.25" fill="#B76680"/>
<circle cx="612.97" cy="181.50" r="2.25" fill="#B76680"/>
<circle cx="617.07" cy="177.68" r="2.25" fill="#B76680"/>
<circle cx="621.66" cy="174.46" r="2.25" fill="#B76680"/>
<circle cx="626.64" cy="171.89" r="2.25" fill="#B76680"/>
<circle cx="631.92" cy="170.02" r="2.25" fill="#B76680"/>
<circle cx="637.41" cy="168.88" r="2.25" fill="#B76680"/>
<circle cx="643.00" cy="168.50" r="2.25" fill="#B76680"/>
<circle cx="648.59" cy="168.88" r="2.25" fill="#B76680"/>
<circle cx="654.08" cy="170.02" r="2.25" fill="#B76680"/>
<circle cx="659.36" cy="171.89" r="2.25" fill="#B76680"/>
<circle cx="664.34" cy="174.46" r="2.25" fill="#B76680"/>
<circle cx="668.93" cy="177.68" r="2.25" fill="#B76680"/>
<circle cx="673.03" cy="181.50" r="2.25" fill="#B76680"/>
<circle cx="676.58" cy="185.83" r="2.25" fill="#B76680"/>
<circle cx="679.51" cy="190.61" r="2.25" fill="#B76680"/>
<circle cx="681.76" cy="195.74" r="2.25" fill="#B76680"/>
<circle cx="683.30" cy="201.13" r="2.25" fill="#B76680"/>
<circle cx="684.09" cy="206.68" r="2.25" fill="#B76680"/>
<circle cx="684.12" cy="212.29" r="2.25" fill="#B76680"/>
<circle cx="683.30" cy="218.63" r="2.25" fill="#B76680"/>
<circle cx="681.15" cy="226.29" r="2.25" fill="#B76680"/>
<circle cx="676.34" cy="235.28" r="2.25" fill="#B76680"/>
<circle cx="667.11" cy="244.78" r="2.25" fill="#B76680"/>
<circle cx="602.70" cy="218.63" r="2.25" fill="#B76680"/>
<circle cx="604.85" cy="226.29" r="2.25" fill="#B76680"/>
<circle cx="609.66" cy="235.28" r="2.25" fill="#B76680"/>
<circle cx="618.89" cy="244.78" r="2.25" fill="#B76680"/>
<use href="#capsidB" transform="translate(643.5000000000001,212.1)"/>
<use href="#virion" transform="translate(81.2,112)"/>
<use href="#virion" transform="translate(858.4,106)"/>
<g>
<path d="M84.6,205 V267" stroke="#E0861A" stroke-width="1.5" fill="none"/>
<path d="M76,180.6 L86.6,179.8 L88.2,194 L79.6,195 Z" fill="#F3B431" stroke="#E9A526" stroke-width="0.6" stroke-linejoin="round"/>
<path d="M79.8,195.4 L88,194.6 L88.4,206.8 L81,207.6 Z" fill="#F3B431" stroke="#E9A526" stroke-width="0.6" stroke-linejoin="round"/>
<rect x="80.6" y="214.3" width="8" height="16" rx="1" fill="#F3B431" stroke="#E9A526" stroke-width="0.6"/>
<rect x="80.6" y="230.8" width="8" height="12" rx="1" fill="#F3B431" stroke="#E9A526" stroke-width="0.6"/>
</g>
<g fill="none" stroke="#6FA876" stroke-width="1.6" stroke-linecap="round">
<path d="M101.2,230 C101.2,213 116.2,213 116.2,230"/>
<path d="M116.2,266 C117.2,281.5 130.3,281.5 131.3,266"/>
<path d="M101.2,266 C101.2,273 97,276 93.6,276.2"/>
<path d="M146.3,266 C146.3,273 151,276 155,276.4"/>
<path d="M131.3,230 C131.3,220 128.5,214 128.8,207 C129,201 137,200 138,206 C139,212 138,218 141,222 C144,225 147,222 146.5,216 C146,210 149,206.5 153,209 C157,211.5 160,215 159,218.5 C158,221.5 152,221 150,223 C147.5,225.5 146.3,227 146.3,230"/>
<rect x="97.5" y="227.2" width="7.4" height="42.4" rx="3.7" fill="#6FA876" stroke="none"/>
<rect x="112.5" y="227.2" width="7.4" height="42.4" rx="3.7" fill="#6FA876" stroke="none"/>
<rect x="127.60000000000001" y="227.2" width="7.4" height="42.4" rx="3.7" fill="#6FA876" stroke="none"/>
<rect x="142.60000000000002" y="227.2" width="7.4" height="42.4" rx="3.7" fill="#6FA876" stroke="none"/>
</g>
<path d="M195.0,75 V109.0 M186.2,109.0 H203.8" stroke="#1F3A6B" stroke-width="2.2" fill="none"/>
<rect x="163.3" y="15.4" width="118.2" height="59.5" rx="0.5" fill="#26477A" stroke="#101B3E" stroke-width="2"/>
<path d="M423.5,186.5 H385 M385,177.7 V195.3" stroke="#1F3A6B" stroke-width="2.2" fill="none"/>
<rect x="424.3" y="164.2" width="117.7" height="59.2" rx="0.5" fill="#26477A" stroke="#101B3E" stroke-width="2"/>
<path d="M715.8,75 V111.9 M707.0,111.9 H724.5999999999999" stroke="#1F3A6B" stroke-width="2.2" fill="none"/>
<rect x="632.5" y="28.6" width="147.8" height="46.4" rx="0.5" fill="#26477A" stroke="#101B3E" stroke-width="2"/>
<path d="M142.5,494.5 H86.4 M86.4,485.7 V503.3" stroke="#1F3A6B" stroke-width="2.2" fill="none"/>
<rect x="142.8" y="478.7" width="84.6" height="58.9" rx="0.5" fill="#26477A" stroke="#101B3E" stroke-width="2"/>
<path d="M549.5,639.7 H514 M514,630.9000000000001 V648.5" stroke="#1F3A6B" stroke-width="2.2" fill="none"/>
<rect x="550.0" y="624.7" width="85.2" height="44.2" rx="0.5" fill="#26477A" stroke="#101B3E" stroke-width="2"/>
<path d="M59.20,400.69 L60.72,401.30 L62.24,401.35 L63.76,400.82 L65.28,399.77 L66.80,398.29 L68.32,396.54 L69.84,394.67 L71.36,392.88 L72.88,391.33 L74.40,390.17 L75.92,389.52 L77.44,389.44 L78.96,389.93 L80.48,390.95 L82.00,392.40 L83.52,394.14 L85.04,396.00 L86.56,397.81 L88.08,399.38 L89.60,400.57 L91.12,401.25 L92.64,401.38 L94.16,400.92 L95.68,399.93 L97.20,398.51 L98.72,396.78 L100.24,394.92 L101.76,393.11 L103.28,391.52 L104.80,390.30 L106.32,389.58 L107.84,389.41 L109.36,389.83 L110.88,390.79 L112.40,392.19 L113.92,393.90 L115.44,395.76 L116.96,397.58 L118.48,399.19 L120.00,400.44 L121.52,401.19 L123.04,401.39 L124.56,401.01 L126.08,400.09 L127.60,398.71 L129.12,397.02 L130.64,395.17 L132.16,393.34 L133.68,391.71 L135.20,390.43 L136.72,389.64 L138.24,389.40 L139.76,389.75 L141.28,390.63 L142.80,391.98 L144.32,393.66 L145.84,395.51 L147.36,397.35 L148.88,399.00 L150.40,400.30" fill="none" stroke="#C9161D" stroke-width="3.3" stroke-linejoin="round"/>
<path d="M494.70,452.12 L496.22,452.49 L497.74,452.29 L499.26,451.53 L500.78,450.29 L502.30,448.69 L503.82,446.87 L505.34,445.02 L506.86,443.31 L508.38,441.91 L509.90,440.95 L511.42,440.52 L512.94,440.66 L514.46,441.37 L515.98,442.56 L517.50,444.14 L519.02,445.94 L520.54,447.80 L522.06,449.53 L523.58,450.97 L525.10,451.98 L526.62,452.46 L528.14,452.38 L529.66,451.73 L531.18,450.57 L532.70,449.03 L534.22,447.24 L535.74,445.38 L537.26,443.63 L538.78,442.16 L540.30,441.10 L541.82,440.56 L543.34,440.59 L544.86,441.19 L546.38,442.29 L547.90,443.81 L549.42,445.58 L550.94,447.44 L552.46,449.20 L553.98,450.71 L555.50,451.82 L557.02,452.41 L558.54,452.44 L560.06,451.90 L561.58,450.83 L563.10,449.36 L564.62,447.60 L566.14,445.75 L567.66,443.96 L569.18,442.42 L570.70,441.27 L572.22,440.62 L573.74,440.54 L575.26,441.03 L576.78,442.04 L578.30,443.48 L579.82,445.21 L581.34,447.07 L582.86,448.87 L584.38,450.44 L585.90,451.64" fill="none" stroke="#C9161D" stroke-width="3.3" stroke-linejoin="round"/>
<path d="M309.70,266.00 C307.48,266.43 299.27,267.03 296.40,268.60 C293.53,270.17 292.23,272.48 292.50,275.40 C292.77,278.32 298.00,283.02 298.00,286.10 C298.00,289.18 295.20,292.10 292.50,293.90 C289.80,295.70 284.08,295.27 281.80,296.90 C279.52,298.53 278.38,300.77 278.80,303.70 C279.22,306.63 284.13,311.57 284.30,314.50 C284.47,317.43 282.50,319.68 279.80,321.30 C277.10,322.92 270.53,322.73 268.10,324.20 C265.67,325.67 264.78,327.33 265.20,330.10 C265.62,332.87 270.12,338.03 270.60,340.80 C271.08,343.57 268.52,345.72 268.10,346.70" fill="none" stroke="#C9161D" stroke-width="2.8" stroke-linecap="round"/>
<path d="M337.40,260.70 C335.13,261.13 326.73,261.83 323.80,263.30 C320.87,264.77 319.48,266.50 319.80,269.50 C320.12,272.50 325.53,278.20 325.70,281.30 C325.87,284.40 323.73,286.48 320.80,288.10 C317.87,289.72 310.70,289.37 308.10,291.00 C305.50,292.63 304.70,294.97 305.20,297.90 C305.70,300.83 310.62,305.90 311.10,308.60 C311.58,311.30 308.60,313.18 308.10,314.10" fill="none" stroke="#C9161D" stroke-width="2.8" stroke-linecap="round"/>
<g clip-path="url(#hc1)"><path d="M43.60,549.27 L44.32,549.48 L45.05,549.79 L45.77,550.20 L46.49,550.69 L47.22,551.27 L47.94,551.92 L48.66,552.63 L49.39,553.40 L50.11,554.21 L50.83,555.06 L51.55,555.92 L52.28,556.78 L53.00,557.64 L53.72,558.48 L54.45,559.29 L55.17,560.05 L55.89,560.76 L56.62,561.40 L57.34,561.97 L58.06,562.45 L58.79,562.85 L59.51,563.15 L60.23,563.35 L60.95,563.44 L61.68,563.43 L62.40,563.32 L63.12,563.10 L63.85,562.78 L64.57,562.37 L65.29,561.87 L66.02,561.29 L66.74,560.63 L67.46,559.91 L68.19,559.14 L68.91,558.33 L69.63,557.48 L70.36,556.62 L71.08,555.76 L71.80,554.90 L72.53,554.06 L73.25,553.26 L73.97,552.50 L74.69,551.79 L75.42,551.16 L76.14,550.59 L76.86,550.11 L77.59,549.73 L78.31,549.43 L79.03,549.24 L79.76,549.16 L80.48,549.17 L81.20,549.29 L81.93,549.52 L82.65,549.84 L83.37,550.26 L84.09,550.77 L84.82,551.36 L85.54,552.02 L86.26,552.74 L86.99,553.52 L87.71,554.33 L88.43,555.18 L89.16,556.04 L89.88,556.90 L90.60,557.76 L91.33,558.60 L92.05,559.40 L92.77,560.15 L93.50,560.85 L94.22,561.49 L94.94,562.04 L95.67,562.52 L96.39,562.90 L97.11,563.18 L97.83,563.37 L98.56,563.45 L99.28,563.42 L100.00,563.29 L100.73,563.06 L101.45,562.73 L102.17,562.31 L102.90,561.79 L103.62,561.20 L104.34,560.53 L105.07,559.81 L105.79,559.03 L106.51,558.21 L107.24,557.36 L107.96,556.50 L108.68,555.63 L109.40,554.78 L110.13,553.95 L110.85,553.15 L111.57,552.39 L112.30,551.70 L113.02,551.07 L113.74,550.52 L114.47,550.05 L115.19,549.68 L115.91,549.40 L116.64,549.22 L117.36,549.15 L118.08,549.18 L118.81,549.32 L119.53,549.56 L120.25,549.90 L120.97,550.33 L121.70,550.85 L122.42,551.45 L123.14,552.12 L123.87,552.85 L124.59,553.63 L125.31,554.45 L126.04,555.30 L126.76,556.16 L127.48,557.03 L128.21,557.88 L128.93,558.71 L129.65,559.51 L130.38,560.26 L131.10,560.95 L131.82,561.57 L132.54,562.12 L133.27,562.58 L133.99,562.94 L134.71,563.21 L135.44,563.38 L136.16,563.45 L136.88,563.41 L137.61,563.27 L138.33,563.02 L139.05,562.68 L139.78,562.24 L140.50,561.71 L141.22,561.11 L141.95,560.43 L142.67,559.70 L143.39,558.91 L144.11,558.09 L144.84,557.24 L145.56,556.38 L146.28,555.51 L147.01,554.66 L147.73,553.83 L148.45,553.04 L149.18,552.29 L149.90,551.61 L150.62,550.99 L151.35,550.45 L152.07,550.00 L152.79,549.63 L153.52,549.37 L154.24,549.21 L154.96,549.15 L155.68,549.20 L156.41,549.35 L157.13,549.60 L157.85,549.95 L158.58,550.40 L159.30,550.93" fill="none" stroke="#730D11" stroke-width="3.9" stroke-linejoin="round" stroke-linecap="butt"/>
<path d="M43.60,560.95 L44.32,561.57 L45.05,562.12 L45.77,562.58 L46.49,562.94 L47.22,563.22 L47.94,563.38 L48.66,563.45 L49.39,563.41 L50.11,563.27 L50.83,563.02 L51.55,562.68 L52.28,562.24 L53.00,561.71 L53.72,561.11 L54.45,560.43 L55.17,559.70 L55.89,558.91 L56.62,558.09 L57.34,557.24 L58.06,556.37 L58.79,555.51 L59.51,554.66 L60.23,553.83 L60.95,553.04 L61.68,552.29 L62.40,551.60 L63.12,550.99 L63.85,550.45 L64.57,549.99 L65.29,549.63 L66.02,549.37 L66.74,549.21 L67.46,549.15 L68.19,549.20 L68.91,549.35 L69.63,549.60 L70.36,549.95 L71.08,550.40 L71.80,550.93 L72.53,551.54 L73.25,552.22 L73.97,552.96 L74.69,553.75 L75.42,554.57 L76.14,555.42 L76.86,556.29 L77.59,557.15 L78.31,558.00 L79.03,558.83 L79.76,559.62 L80.48,560.36 L81.20,561.04 L81.93,561.65 L82.65,562.19 L83.37,562.63 L84.09,562.99 L84.82,563.25 L85.54,563.40 L86.26,563.45 L86.99,563.40 L87.71,563.24 L88.43,562.98 L89.16,562.62 L89.88,562.17 L90.60,561.63 L91.33,561.02 L92.05,560.33 L92.77,559.59 L93.50,558.80 L94.22,557.97 L94.94,557.12 L95.67,556.25 L96.39,555.39 L97.11,554.54 L97.83,553.71 L98.56,552.93 L99.28,552.19 L100.00,551.51 L100.73,550.91 L101.45,550.38 L102.17,549.94 L102.90,549.59 L103.62,549.34 L104.34,549.19 L105.07,549.15 L105.79,549.21 L106.51,549.38 L107.24,549.65 L107.96,550.01 L108.68,550.47 L109.40,551.01 L110.13,551.63 L110.85,552.32 L111.57,553.07 L112.30,553.86 L113.02,554.69 L113.74,555.54 L114.47,556.41 L115.19,557.27 L115.91,558.12 L116.64,558.94 L117.36,559.73 L118.08,560.46 L118.81,561.13 L119.53,561.73 L120.25,562.26 L120.97,562.69 L121.70,563.03 L122.42,563.27 L123.14,563.41 L123.87,563.45 L124.59,563.38 L125.31,563.21 L126.04,562.93 L126.76,562.56 L127.48,562.10 L128.21,561.55 L128.93,560.92 L129.65,560.23 L130.38,559.48 L131.10,558.68 L131.82,557.85 L132.54,556.99 L133.27,556.13 L133.99,555.27 L134.71,554.42 L135.44,553.60 L136.16,552.82 L136.88,552.09 L137.61,551.42 L138.33,550.83 L139.05,550.31 L139.78,549.88 L140.50,549.55 L141.22,549.31 L141.95,549.18 L142.67,549.15 L143.39,549.23 L144.11,549.41 L144.84,549.69 L145.56,550.07 L146.28,550.54 L147.01,551.09 L147.73,551.72 L148.45,552.42 L149.18,553.18 L149.90,553.98 L150.62,554.81 L151.35,555.67 L152.07,556.53 L152.79,557.39 L153.52,558.24 L154.24,559.06 L154.96,559.83 L155.68,560.56 L156.41,561.22 L157.13,561.81 L157.85,562.32 L158.58,562.74 L159.30,563.07" fill="none" stroke="#C9161D" stroke-width="3.9" stroke-linejoin="round" stroke-linecap="butt"/>
<path d="M43.60,549.27 L44.32,549.48 L45.05,549.79 L45.77,550.20 L46.49,550.69 L47.22,551.27 L47.94,551.92 L48.66,552.63 L49.39,553.40 L50.11,554.21 L50.83,555.06 L51.55,555.92 L52.28,556.78 L53.00,557.64 L53.72,558.48 L54.45,559.29 L55.17,560.05 L55.89,560.76 L56.62,561.40 L57.34,561.97 L58.06,562.45 L58.79,562.85 L59.51,563.15 L60.23,563.35 L60.95,563.44" fill="none" stroke="#730D11" stroke-width="3.9" stroke-linejoin="round"/>
<path d="M80.48,549.17 L81.20,549.29 L81.93,549.52 L82.65,549.84 L83.37,550.26 L84.09,550.77 L84.82,551.36 L85.54,552.02 L86.26,552.74 L86.99,553.52 L87.71,554.33 L88.43,555.18 L89.16,556.04 L89.88,556.90 L90.60,557.76 L91.33,558.60 L92.05,559.40 L92.77,560.15 L93.50,560.85 L94.22,561.49 L94.94,562.04 L95.67,562.52 L96.39,562.90 L97.11,563.18 L97.83,563.37 L98.56,563.45" fill="none" stroke="#730D11" stroke-width="3.9" stroke-linejoin="round"/>
<path d="M118.08,549.18 L118.81,549.32 L119.53,549.56 L120.25,549.90 L120.97,550.33 L121.70,550.85 L122.42,551.45 L123.14,552.12 L123.87,552.85 L124.59,553.63 L125.31,554.45 L126.04,555.30 L126.76,556.16 L127.48,557.03 L128.21,557.88 L128.93,558.71 L129.65,559.51 L130.38,560.26 L131.10,560.95 L131.82,561.57 L132.54,562.12 L133.27,562.58 L133.99,562.94 L134.71,563.21 L135.44,563.38 L136.16,563.45" fill="none" stroke="#730D11" stroke-width="3.9" stroke-linejoin="round"/>
<path d="M155.68,549.20 L156.41,549.35 L157.13,549.60 L157.85,549.95 L158.58,550.40 L159.30,550.93" fill="none" stroke="#730D11" stroke-width="3.9" stroke-linejoin="round"/></g>
<g clip-path="url(#hc2)"><path d="M343.50,652.79 L344.22,653.02 L344.95,653.34 L345.67,653.76 L346.40,654.27 L347.12,654.86 L347.85,655.52 L348.57,656.25 L349.30,657.02 L350.02,657.84 L350.74,658.69 L351.47,659.55 L352.19,660.42 L352.92,661.28 L353.64,662.11 L354.37,662.92 L355.09,663.67 L355.81,664.37 L356.54,665.00 L357.26,665.56 L357.99,666.03 L358.71,666.41 L359.44,666.69 L360.16,666.87 L360.88,666.95 L361.61,666.92 L362.33,666.79 L363.06,666.55 L363.78,666.21 L364.51,665.78 L365.23,665.27 L365.96,664.67 L366.68,664.00 L367.40,663.27 L368.13,662.48 L368.85,661.66 L369.58,660.81 L370.30,659.95 L371.03,659.08 L371.75,658.22 L372.48,657.39 L373.20,656.59 L373.92,655.84 L374.65,655.15 L375.37,654.53 L376.10,653.98 L376.82,653.52 L377.55,653.15 L378.27,652.88 L378.99,652.72 L379.72,652.65 L380.44,652.69 L381.17,652.84 L381.89,653.08 L382.62,653.43 L383.34,653.87 L384.06,654.40 L384.79,655.01 L385.51,655.68 L386.24,656.42 L386.96,657.21 L387.69,658.04 L388.41,658.89 L389.14,659.75 L389.86,660.62 L390.58,661.47 L391.31,662.30 L392.03,663.09 L392.76,663.84 L393.48,664.52 L394.21,665.14 L394.93,665.68 L395.65,666.13 L396.38,666.48 L397.10,666.74 L397.83,666.90 L398.55,666.95 L399.28,666.90 L400.00,666.74 L400.73,666.48 L401.45,666.12 L402.17,665.67 L402.90,665.13 L403.62,664.52 L404.35,663.83 L405.07,663.09 L405.80,662.30 L406.52,661.47 L407.25,660.61 L407.97,659.75 L408.69,658.88 L409.42,658.03 L410.14,657.20 L410.87,656.42 L411.59,655.68 L412.32,655.00 L413.04,654.40 L413.76,653.87 L414.49,653.43 L415.21,653.08 L415.94,652.84 L416.66,652.69 L417.39,652.65 L418.11,652.72 L418.83,652.89 L419.56,653.16 L420.28,653.53 L421.01,653.99 L421.73,654.53 L422.46,655.16 L423.18,655.85 L423.91,656.60 L424.63,657.40 L425.35,658.23 L426.08,659.09 L426.80,659.95 L427.53,660.82 L428.25,661.67 L428.98,662.49 L429.70,663.27 L430.42,664.00 L431.15,664.67 L431.87,665.27 L432.60,665.79 L433.32,666.22 L434.05,666.55 L434.77,666.79 L435.50,666.92 L436.22,666.95 L436.94,666.87 L437.67,666.69 L438.39,666.41 L439.12,666.03 L439.84,665.55 L440.57,665.00 L441.29,664.37 L442.01,663.67 L442.74,662.91 L443.46,662.11 L444.19,661.27 L444.91,660.41 L445.64,659.55 L446.36,658.68 L447.09,657.84 L447.81,657.02 L448.53,656.24 L449.26,655.52 L449.98,654.85 L450.71,654.27 L451.43,653.76 L452.16,653.34 L452.88,653.02 L453.60,652.79 L454.33,652.67 L455.05,652.66 L455.78,652.75 L456.50,652.94 L457.23,653.23 L457.95,653.62 L458.68,654.11 L459.40,654.67" fill="none" stroke="#730D11" stroke-width="3.9" stroke-linejoin="round" stroke-linecap="butt"/>
<path d="M343.50,664.54 L344.22,665.15 L344.95,665.69 L345.67,666.14 L346.40,666.49 L347.12,666.75 L347.85,666.90 L348.57,666.95 L349.30,666.89 L350.02,666.73 L350.74,666.47 L351.47,666.11 L352.19,665.66 L352.92,665.12 L353.64,664.50 L354.37,663.82 L355.09,663.07 L355.81,662.28 L356.54,661.45 L357.26,660.59 L357.99,659.73 L358.71,658.86 L359.44,658.01 L360.16,657.18 L360.88,656.40 L361.61,655.66 L362.33,654.99 L363.06,654.38 L363.78,653.86 L364.51,653.42 L365.23,653.08 L365.96,652.83 L366.68,652.69 L367.40,652.65 L368.13,652.72 L368.85,652.89 L369.58,653.16 L370.30,653.54 L371.03,654.00 L371.75,654.55 L372.48,655.17 L373.20,655.87 L373.92,656.62 L374.65,657.42 L375.37,658.25 L376.10,659.11 L376.82,659.98 L377.55,660.84 L378.27,661.69 L378.99,662.51 L379.72,663.29 L380.44,664.02 L381.17,664.69 L381.89,665.28 L382.62,665.80 L383.34,666.23 L384.06,666.56 L384.79,666.79 L385.51,666.92 L386.24,666.95 L386.96,666.87 L387.69,666.68 L388.41,666.40 L389.14,666.02 L389.86,665.54 L390.58,664.98 L391.31,664.35 L392.03,663.65 L392.76,662.89 L393.48,662.09 L394.21,661.25 L394.93,660.39 L395.65,659.52 L396.38,658.66 L397.10,657.82 L397.83,657.00 L398.55,656.22 L399.28,655.50 L400.00,654.84 L400.73,654.25 L401.45,653.75 L402.17,653.33 L402.90,653.01 L403.62,652.79 L404.35,652.67 L405.07,652.66 L405.80,652.75 L406.52,652.95 L407.25,653.24 L407.97,653.63 L408.69,654.12 L409.42,654.69 L410.14,655.33 L410.87,656.04 L411.59,656.80 L412.32,657.61 L413.04,658.45 L413.76,659.31 L414.49,660.18 L415.21,661.04 L415.94,661.88 L416.66,662.69 L417.39,663.46 L418.11,664.18 L418.83,664.83 L419.56,665.41 L420.28,665.91 L421.01,666.31 L421.73,666.62 L422.46,666.83 L423.18,666.94 L423.91,666.94 L424.63,666.83 L425.35,666.63 L426.08,666.32 L426.80,665.91 L427.53,665.42 L428.25,664.84 L428.98,664.19 L429.70,663.48 L430.42,662.71 L431.15,661.90 L431.87,661.05 L432.60,660.19 L433.32,659.32 L434.05,658.46 L434.77,657.62 L435.50,656.81 L436.22,656.05 L436.94,655.34 L437.67,654.70 L438.39,654.13 L439.12,653.64 L439.84,653.25 L440.57,652.95 L441.29,652.75 L442.01,652.66 L442.74,652.67 L443.46,652.79 L444.19,653.00 L444.91,653.32 L445.64,653.74 L446.36,654.24 L447.09,654.83 L447.81,655.49 L448.53,656.21 L449.26,656.98 L449.98,657.80 L450.71,658.65 L451.43,659.51 L452.16,660.38 L452.88,661.23 L453.60,662.07 L454.33,662.88 L455.05,663.63 L455.78,664.34 L456.50,664.97 L457.23,665.53 L457.95,666.01 L458.68,666.39 L459.40,666.68" fill="none" stroke="#C9161D" stroke-width="3.9" stroke-linejoin="round" stroke-linecap="butt"/>
<path d="M343.50,652.79 L344.22,653.02 L344.95,653.34 L345.67,653.76 L346.40,654.27 L347.12,654.86 L347.85,655.52 L348.57,656.25 L349.30,657.02 L350.02,657.84 L350.74,658.69 L351.47,659.55 L352.19,660.42 L352.92,661.28 L353.64,662.11 L354.37,662.92 L355.09,663.67 L355.81,664.37 L356.54,665.00 L357.26,665.56 L357.99,666.03 L358.71,666.41 L359.44,666.69 L360.16,666.87 L360.88,666.95" fill="none" stroke="#730D11" stroke-width="3.9" stroke-linejoin="round"/>
<path d="M380.44,652.69 L381.17,652.84 L381.89,653.08 L382.62,653.43 L383.34,653.87 L384.06,654.40 L384.79,655.01 L385.51,655.68 L386.24,656.42 L386.96,657.21 L387.69,658.04 L388.41,658.89 L389.14,659.75 L389.86,660.62 L390.58,661.47 L391.31,662.30 L392.03,663.09 L392.76,663.84 L393.48,664.52 L394.21,665.14 L394.93,665.68 L395.65,666.13 L396.38,666.48 L397.10,666.74 L397.83,666.90" fill="none" stroke="#730D11" stroke-width="3.9" stroke-linejoin="round"/>
<path d="M417.39,652.65 L418.11,652.72 L418.83,652.89 L419.56,653.16 L420.28,653.53 L421.01,653.99 L421.73,654.53 L422.46,655.16 L423.18,655.85 L423.91,656.60 L424.63,657.40 L425.35,658.23 L426.08,659.09 L426.80,659.95 L427.53,660.82 L428.25,661.67 L428.98,662.49 L429.70,663.27 L430.42,664.00 L431.15,664.67 L431.87,665.27 L432.60,665.79 L433.32,666.22 L434.05,666.55 L434.77,666.79 L435.50,666.92" fill="none" stroke="#730D11" stroke-width="3.9" stroke-linejoin="round"/>
<path d="M455.05,652.66 L455.78,652.75 L456.50,652.94 L457.23,653.23 L457.95,653.62 L458.68,654.11 L459.40,654.67" fill="none" stroke="#730D11" stroke-width="3.9" stroke-linejoin="round"/></g>
<path d="M326.27,576.29 L326.74,575.27 L327.11,574.12 L327.34,572.89 L327.46,571.59 L327.49,570.24 L327.47,568.84 L327.43,567.41 L327.39,565.96 L327.40,564.50 L327.48,563.04 L327.68,561.61 L328.02,560.22 L328.53,558.90 L329.20,557.69 L329.83,556.71 L330.58,555.86 L331.45,555.17 L332.42,554.64 L333.51,554.29 L334.68,554.13 L335.93,554.16 L337.32,554.37 L338.65,554.80 L339.96,555.42 L341.22,556.22 L342.44,557.19 L343.46,558.30 L344.32,559.50 L345.03,560.74 L345.61,562.00 L346.10,563.22 L346.52,564.38 L346.91,565.46 L347.29,566.44 L347.63,567.28 L348.08,568.02 L348.65,568.67 L349.24,569.16 L349.93,569.51 L350.62,569.69 L351.33,569.71 L352.20,569.68 L353.25,569.64 L354.38,569.52 L355.64,569.39 L356.96,569.22 L358.35,569.04 L359.78,568.85 L361.23,568.67 L362.66,568.49 L364.06,568.34 L365.40,568.22 L366.66,568.15 L367.82,568.11 L368.89,568.16 L369.94,568.38 L370.93,568.77 L371.78,569.27 L372.50,569.89 L373.09,570.64 L373.55,571.50 L373.90,572.47 L374.14,573.54 L374.29,574.71 L374.38,575.97 L374.41,577.29 L374.41,578.67 L374.41,580.10 L374.44,581.55 L374.53,583.01 L374.72,584.47 L374.99,585.88 L375.31,587.19 L375.68,588.40 L376.16,589.52 L376.72,590.51 L377.43,591.39 L378.28,592.13 L379.27,592.71 L380.30,593.09 L381.53,593.32 L382.85,593.36 L384.25,593.19 L385.68,592.80 L387.10,592.18 L388.44,591.34 L389.64,590.30 L390.65,589.09 L391.36,587.79 L391.88,586.46 L392.25,585.13 L392.54,583.85 L392.78,582.63 L393.02,581.49 L393.31,580.44 L393.68,579.48 L394.15,578.62 L394.75,577.87 L395.47,577.24 L396.27,576.78 L396.89,576.61 L397.67,576.51 L398.63,576.45 L399.67,576.48 L400.84,576.56 L402.11,576.67 L403.46,576.83 L404.86,577.02 L406.29,577.24 L407.73,577.48 L409.14,577.72 L410.52,577.95 L411.82,578.19 L413.05,578.38 L414.13,578.56 L415.24,578.59 L416.28,578.49 L417.21,578.27 L418.05,577.91 L418.77,577.43 L419.39,576.82 L419.93,576.07 L420.36,575.20 L420.75,574.20 L421.05,573.11 L421.32,571.91 L421.58,570.62 L421.84,569.28 L422.12,567.88 L422.44,566.47 L422.83,565.06 L423.26,563.68 L423.78,562.36 L424.36,561.11 L425.03,559.97 L425.73,558.97 L426.55,558.10 L427.43,557.39 L428.33,556.86 L429.33,556.51 L430.37,556.34 L431.41,556.37 L432.52,556.56 L433.65,556.93 L434.79,557.46 L435.94,558.13 L437.11,558.93 L438.22,559.85 L439.28,560.86 L440.28,561.92 L441.24,563.00 L442.18,564.07 L443.11,565.10 L444.02,566.06 L444.95,566.92 L445.89,567.67 L446.84,568.27 L447.83,568.72 L448.85,568.99 L449.86,569.08" fill="none" stroke="#EC870B" stroke-width="3.6" stroke-linejoin="round" stroke-linecap="round"/>
<path d="M318.42,566.56 L318.67,565.54 L318.97,564.65 L319.40,563.85 L319.96,563.15 L320.67,562.56 L321.50,562.09 L322.48,561.72 L323.58,561.46 L324.81,561.32 L326.13,561.29 L327.52,561.39 L328.95,561.61 L330.39,561.96 L331.78,562.44 L333.13,563.00 L334.44,563.58 L335.69,564.16 L336.87,564.73 L337.97,565.27 L338.97,565.75 L339.86,566.17 L340.55,566.52 L341.21,566.74 L341.78,566.84 L342.27,566.81 L342.56,566.65 L343.02,566.35 L343.57,565.92 L344.13,565.38 L344.92,564.77 L345.83,564.11 L346.86,563.41 L347.99,562.72 L349.21,562.04 L350.50,561.39 L351.85,560.81 L353.20,560.30 L354.57,559.88 L355.91,559.57 L357.29,559.43 L358.67,559.49 L359.95,559.72 L361.05,560.05 L362.07,560.56 L362.91,561.16 L363.63,561.92 L364.19,562.78 L364.60,563.74 L364.89,564.80 L365.06,565.96 L365.14,567.19 L365.15,568.49 L365.11,569.86 L365.05,571.26 L365.00,572.71 L364.97,574.16 L364.93,575.59 L364.91,576.98 L364.93,578.32 L365.01,579.59 L365.18,580.78 L365.45,581.87 L365.84,582.87 L366.35,583.75 L366.99,584.51 L367.75,585.13 L368.68,585.65 L369.70,586.01 L370.88,586.26 L372.11,586.34 L373.47,586.32 L374.84,586.12 L376.19,585.78 L377.54,585.36 L378.92,584.89 L380.29,584.38 L381.62,583.86 L382.89,583.33 L384.08,582.80 L385.22,582.32 L386.19,581.85 L387.03,581.44 L387.72,581.10 L388.26,580.85 L388.66,580.71 L388.94,580.71 L389.15,580.84 L389.22,581.14 L389.68,581.53 L390.32,581.99 L391.14,582.48 L392.12,583.00 L393.25,583.52 L394.49,584.03 L395.82,584.52 L397.19,584.99 L398.58,585.43 L399.95,585.84 L401.28,586.21 L402.57,586.51 L403.98,586.58 L405.31,586.50 L406.49,586.32 L407.60,585.97 L408.56,585.50 L409.36,584.93 L410.04,584.23 L410.57,583.42 L410.97,582.50 L411.25,581.48 L411.43,580.38 L411.55,579.18 L411.60,577.91 L411.64,576.57 L411.68,575.18 L411.77,573.74 L411.86,572.29 L411.98,570.85 L412.14,569.45 L412.36,568.10 L412.66,566.82 L413.03,565.65 L413.53,564.57 L414.10,563.63 L414.81,562.81 L415.65,562.14 L416.54,561.65 L417.59,561.30 L418.68,561.14 L419.89,561.13 L421.14,561.29 L422.38,561.62 L423.66,562.08 L424.95,562.65 L426.23,563.31 L427.48,564.05 L428.71,564.83 L429.90,565.62 L431.07,566.40 L432.17,567.15 L433.22,567.83 L434.24,568.42 L435.19,568.91 L436.10,569.27 L436.96,569.49 L437.75,569.56 L438.43,569.51 L439.13,569.29 L439.85,568.92 L440.65,568.40 L441.43,567.74 L442.26,566.95 L443.13,566.06 L444.01,565.07 L444.91,564.00 L445.83,562.89 L446.73,561.75 L447.63,560.61 L448.49,559.50 L449.33,558.42" fill="none" stroke="#F7A31E" stroke-width="3.6" stroke-linejoin="round" stroke-linecap="round"/>
<path d="M332.42,554.64 L333.51,554.29 L334.68,554.13 L335.93,554.16 L337.32,554.37 L338.65,554.80 L339.96,555.42 L341.22,556.22 L342.44,557.19 L343.46,558.30 L344.32,559.50 L345.03,560.74 L345.61,562.00 L346.10,563.22 L346.52,564.38 L346.91,565.46 L347.29,566.44 L347.63,567.28 L348.08,568.02 L348.65,568.67 L349.24,569.16" fill="none" stroke="#EC870B" stroke-width="3.6" stroke-linejoin="round"/>
<path d="M372.50,569.89 L373.09,570.64 L373.55,571.50 L373.90,572.47 L374.14,573.54 L374.29,574.71 L374.38,575.97 L374.41,577.29 L374.41,578.67 L374.41,580.10 L374.44,581.55 L374.53,583.01 L374.72,584.47 L374.99,585.88 L375.31,587.19 L375.68,588.40 L376.16,589.52 L376.72,590.51 L377.43,591.39 L378.28,592.13" fill="none" stroke="#EC870B" stroke-width="3.6" stroke-linejoin="round"/>
<path d="M396.27,576.78 L396.89,576.61 L397.67,576.51 L398.63,576.45 L399.67,576.48 L400.84,576.56 L402.11,576.67 L403.46,576.83 L404.86,577.02 L406.29,577.24 L407.73,577.48 L409.14,577.72 L410.52,577.95 L411.82,578.19 L413.05,578.38 L414.13,578.56 L415.24,578.59 L416.28,578.49 L417.21,578.27 L418.05,577.91" fill="none" stroke="#EC870B" stroke-width="3.6" stroke-linejoin="round"/>
<path d="M429.33,556.51 L430.37,556.34 L431.41,556.37 L432.52,556.56 L433.65,556.93 L434.79,557.46 L435.94,558.13 L437.11,558.93 L438.22,559.85 L439.28,560.86 L440.28,561.92 L441.24,563.00 L442.18,564.07 L443.11,565.10 L444.02,566.06 L444.95,566.92 L445.89,567.67 L446.84,568.27 L447.83,568.72 L448.85,568.99 L449.86,569.08" fill="none" stroke="#EC870B" stroke-width="3.6" stroke-linejoin="round"/>
<path d="M559.99,562.15 L561.23,560.84 L562.48,559.57 L563.73,558.41 L564.96,557.38 L566.18,556.55 L567.37,555.92 L568.53,555.54 L569.67,555.41 L570.77,555.55 L571.86,555.94 L572.93,556.58 L573.99,557.45 L575.05,558.51 L576.16,559.74 L577.26,561.08 L578.36,562.50 L579.45,563.95 L580.56,565.36 L581.69,566.68 L582.85,567.87 L584.05,568.88 L585.28,569.66 L586.55,570.19 L587.85,570.44 L589.22,570.38 L590.54,570.02 L591.73,569.38 L592.88,568.49 L593.97,567.36 L595.02,566.03 L595.99,564.54 L596.85,562.95 L597.62,561.30 L598.27,559.65 L598.82,558.06 L599.28,556.57 L599.74,555.20 L600.03,554.08 L600.36,553.14 L600.82,552.38 L601.51,551.73 L602.33,551.28 L603.37,550.96 L604.63,550.77 L606.06,550.71 L607.65,550.77 L609.34,550.95 L611.10,551.24 L612.86,551.59 L614.65,551.88 L616.43,552.08 L618.14,552.20 L619.73,552.23 L621.17,552.16 L622.43,551.99 L623.46,551.72 L624.32,551.28 L624.93,550.74 L625.46,549.98 L625.89,549.02 L626.35,547.80 L626.76,546.40 L627.15,544.85 L627.52,543.20 L627.94,541.47 L628.40,539.71 L628.92,537.98 L629.53,536.33 L630.23,534.80 L631.06,533.42 L631.98,532.26 L633.00,531.34 L634.09,530.68 L635.27,530.29 L636.54,530.18 L637.93,530.33 L639.32,530.74 L640.76,531.40 L642.20,532.26 L643.63,533.29 L645.02,534.45 L646.34,535.70 L647.58,536.98 L648.71,538.24 L649.67,539.45 L650.57,540.54 L651.36,541.47 L652.20,542.22 L653.08,542.75 L653.97,543.04 L654.99,543.10 L656.08,542.93 L657.30,542.55 L658.60,541.97 L659.99,541.22 L661.41,540.31 L662.81,539.31 L664.29,538.30 L665.83,537.34 L667.40,536.46 L668.92,535.69 L670.38,535.04 L671.73,534.54 L672.97,534.22 L674.12,534.12 L675.17,534.24 L676.15,534.60 L677.12,535.22 L678.02,536.09 L678.89,537.18 L679.70,538.46 L680.49,539.90 L681.25,541.46 L682.00,543.09 L682.75,544.74 L683.50,546.37 L684.27,547.91 L685.08,549.33 L685.92,550.59 L686.82,551.65 L687.77,552.48 L688.78,553.06 L689.86,553.39 L691.01,553.46 L692.21,553.29 L693.48,552.88 L694.82,552.29 L696.23,551.53 L697.70,550.66 L699.19,549.70 L700.71,548.71 L702.23,547.74 L703.72,546.83 L705.18,546.02 L706.58,545.35 L707.91,544.87 L709.16,544.59 L710.34,544.55 L711.42,544.75 L712.43,545.20 L713.34,545.88 L714.22,546.80 L715.05,547.93 L715.87,549.23 L716.66,550.67 L717.49,552.22 L718.32,553.81 L719.19,555.40 L720.08,556.95 L721.01,558.39 L721.97,559.68 L722.96,560.80 L724.00,561.69 L725.06,562.34 L726.16,562.72 L727.30,562.85 L728.47,562.71 L729.66,562.32 L730.91,561.71 L732.20,560.90" fill="none" stroke="#EC870B" stroke-width="3.6" stroke-linejoin="round" stroke-linecap="round"/>
<path d="M560.43,555.62 L561.55,556.49 L562.63,557.57 L563.70,558.82 L564.75,560.20 L565.78,561.65 L566.82,563.14 L567.87,564.60 L568.93,565.99 L570.01,567.24 L571.12,568.33 L572.27,569.21 L573.44,569.85 L574.64,570.22 L575.77,570.32 L576.92,570.15 L578.09,569.73 L579.27,569.05 L580.48,568.16 L581.68,567.08 L582.88,565.84 L584.07,564.50 L585.22,563.10 L586.32,561.68 L587.38,560.31 L588.34,559.02 L589.26,557.86 L590.21,556.86 L591.15,556.07 L592.11,555.51 L593.03,555.20 L593.97,555.14 L595.00,555.30 L596.04,555.68 L597.16,556.24 L598.40,556.93 L599.77,557.69 L601.28,558.47 L602.87,559.20 L604.59,559.81 L606.37,560.25 L608.12,560.55 L609.82,560.66 L611.40,560.60 L612.80,560.39 L614.01,560.00 L615.01,559.46 L615.81,558.74 L616.44,557.85 L617.11,556.57 L617.57,555.11 L617.79,553.55 L617.86,551.89 L617.80,550.17 L617.70,548.39 L617.61,546.58 L617.60,544.76 L617.72,542.98 L618.07,541.23 L618.60,539.63 L619.35,538.20 L620.16,537.05 L621.13,536.13 L622.24,535.47 L623.52,535.06 L624.87,534.93 L626.31,535.06 L627.82,535.41 L629.38,535.97 L630.96,536.69 L632.55,537.54 L634.11,538.47 L635.62,539.44 L637.10,540.37 L638.51,541.23 L639.84,541.96 L641.06,542.55 L642.22,542.94 L643.30,543.12 L644.30,543.06 L645.24,542.77 L646.14,542.24 L646.95,541.50 L647.84,540.55 L648.76,539.44 L649.69,538.21 L650.79,536.93 L652.01,535.64 L653.34,534.40 L654.73,533.25 L656.19,532.24 L657.63,531.39 L659.06,530.75 L660.41,530.33 L661.68,530.14 L662.84,530.20 L663.93,530.51 L665.18,531.16 L666.25,532.07 L667.26,533.24 L668.08,534.59 L668.78,536.09 L669.40,537.70 L670.00,539.38 L670.61,541.08 L671.28,542.76 L672.02,544.36 L672.83,545.85 L673.67,547.15 L674.59,548.26 L675.56,549.13 L676.61,549.76 L677.72,550.12 L678.89,550.22 L680.13,550.06 L681.43,549.67 L682.78,549.06 L684.18,548.28 L685.61,547.36 L687.07,546.35 L688.54,545.30 L690.02,544.26 L691.48,543.28 L692.92,542.41 L694.33,541.69 L695.72,541.16 L697.05,540.87 L698.30,540.81 L699.47,541.02 L700.56,541.48 L701.56,542.20 L702.48,543.16 L703.31,544.34 L704.08,545.70 L704.80,547.20 L705.49,548.81 L706.17,550.48 L706.86,552.15 L707.57,553.79 L708.34,555.34 L709.16,556.75 L710.08,557.99 L711.06,559.01 L712.13,559.79 L713.26,560.31 L714.50,560.55 L715.74,560.52 L717.03,560.21 L718.38,559.67 L719.72,558.90 L721.09,557.96 L722.45,556.88 L723.82,555.72 L725.18,554.53 L726.54,553.35 L727.88,552.25 L729.21,551.27 L730.52,550.46 L731.82,549.86 L733.08,549.49 L734.30,549.39" fill="none" stroke="#F7A31E" stroke-width="3.6" stroke-linejoin="round" stroke-linecap="round"/>
<path d="M570.77,555.55 L571.86,555.94 L572.93,556.58 L573.99,557.45 L575.05,558.51 L576.16,559.74 L577.26,561.08 L578.36,562.50 L579.45,563.95 L580.56,565.36 L581.69,566.68 L582.85,567.87 L584.05,568.88 L585.28,569.66 L586.55,570.19 L587.85,570.44" fill="none" stroke="#EC870B" stroke-width="3.6" stroke-linejoin="round"/>
<path d="M601.51,551.73 L602.33,551.28 L603.37,550.96 L604.63,550.77 L606.06,550.71 L607.65,550.77 L609.34,550.95 L611.10,551.24 L612.86,551.59 L614.65,551.88 L616.43,552.08 L618.14,552.20 L619.73,552.23 L621.17,552.16 L622.43,551.99 L623.46,551.72 L624.32,551.28" fill="none" stroke="#EC870B" stroke-width="3.6" stroke-linejoin="round"/>
<path d="M635.27,530.29 L636.54,530.18 L637.93,530.33 L639.32,530.74 L640.76,531.40 L642.20,532.26 L643.63,533.29 L645.02,534.45 L646.34,535.70 L647.58,536.98 L648.71,538.24 L649.67,539.45 L650.57,540.54 L651.36,541.47 L652.20,542.22 L653.08,542.75" fill="none" stroke="#EC870B" stroke-width="3.6" stroke-linejoin="round"/>
<path d="M676.15,534.60 L677.12,535.22 L678.02,536.09 L678.89,537.18 L679.70,538.46 L680.49,539.90 L681.25,541.46 L682.00,543.09 L682.75,544.74 L683.50,546.37 L684.27,547.91 L685.08,549.33 L685.92,550.59 L686.82,551.65 L687.77,552.48 L688.78,553.06" fill="none" stroke="#EC870B" stroke-width="3.6" stroke-linejoin="round"/>
<path d="M711.42,544.75 L712.43,545.20 L713.34,545.88 L714.22,546.80 L715.05,547.93 L715.87,549.23 L716.66,550.67 L717.49,552.22 L718.32,553.81 L719.19,555.40 L720.08,556.95 L721.01,558.39 L721.97,559.68 L722.96,560.80 L724.00,561.69 L725.06,562.34 L726.16,562.72" fill="none" stroke="#EC870B" stroke-width="3.6" stroke-linejoin="round"/>
<path d="M448.90,555.52 L449.60,556.00 L450.29,556.56 L450.99,557.18 L451.68,557.87 L452.38,558.61 L453.07,559.40 L453.77,560.22 L454.46,561.06 L455.16,561.90 L455.86,562.75 L456.55,563.59 L457.25,564.40 L457.94,565.17 L458.64,565.90 L459.33,566.58 L460.03,567.19 L460.73,567.72 L461.42,568.18 L462.12,568.55 L462.81,568.83 L463.51,569.01 L464.20,569.09 L464.90,569.08 L465.59,568.97 L466.29,568.76 L466.99,568.45 L467.68,568.06 L468.38,567.58 L469.07,567.02 L469.77,566.39 L470.46,565.70 L471.16,564.95 L471.86,564.17 L472.55,563.35 L473.25,562.51 L473.94,561.66 L474.64,560.81 L475.33,559.97 L476.03,559.16 L476.73,558.39 L477.42,557.66 L478.12,556.99 L478.81,556.39 L479.51,555.85 L480.20,555.40 L480.90,555.04 L481.59,554.76 L482.29,554.58 L482.99,554.50 L483.68,554.52 L484.38,554.64 L485.07,554.86 L485.77,555.17 L486.46,555.56 L487.16,556.05 L487.86,556.61 L488.55,557.24 L489.25,557.94 L489.94,558.68 L490.64,559.47 L491.33,560.29 L492.03,561.13 L492.72,561.98 L493.42,562.83 L494.12,563.66 L494.81,564.47 L495.51,565.24 L496.20,565.97 L496.90,566.64 L497.59,567.24 L498.29,567.77 L498.99,568.22 L499.68,568.58 L500.38,568.85 L501.07,569.02 L501.77,569.10 L502.46,569.07 L503.16,568.95 L503.85,568.73 L504.55,568.42 L505.25,568.02 L505.94,567.53 L506.64,566.96 L507.33,566.33 L508.03,565.63 L508.72,564.88 L509.42,564.09 L510.12,563.27 L510.81,562.43 L511.51,561.58 L512.20,560.73 L512.90,559.90 L513.59,559.09 L514.29,558.32 L514.98,557.60 L515.68,556.93 L516.38,556.33 L517.07,555.81 L517.77,555.36 L518.46,555.01 L519.16,554.74 L519.85,554.57 L520.55,554.50 L521.25,554.53 L521.94,554.66 L522.64,554.88 L523.33,555.20 L524.03,555.61 L524.72,556.10 L525.42,556.67 L526.11,557.30 L526.81,558.00 L527.51,558.75 L528.20,559.55 L528.90,560.37 L529.59,561.21 L530.29,562.06 L530.98,562.91 L531.68,563.74 L532.38,564.54 L533.07,565.31 L533.77,566.03 L534.46,566.70 L535.16,567.29 L535.85,567.81 L536.55,568.25 L537.24,568.61 L537.94,568.87 L538.64,569.03 L539.33,569.10 L540.03,569.07 L540.72,568.93 L541.42,568.71 L542.11,568.38 L542.81,567.97 L543.50,567.48 L544.20,566.91 L544.90,566.27 L545.59,565.56 L546.29,564.81 L546.98,564.02 L547.68,563.19 L548.37,562.35 L549.07,561.50 L549.77,560.65 L550.46,559.82 L551.16,559.02 L551.85,558.25 L552.55,557.54 L553.24,556.88 L553.94,556.28 L554.63,555.76 L555.33,555.33 L556.03,554.98 L556.72,554.72 L557.42,554.56 L558.11,554.50 L558.81,554.54 L559.50,554.67 L560.20,554.91" fill="none" stroke="#730D11" stroke-width="3.8" stroke-linejoin="round" stroke-linecap="butt"/>
<path d="M448.90,568.28 L449.60,568.63 L450.29,568.88 L450.99,569.04 L451.68,569.10 L452.38,569.06 L453.07,568.92 L453.77,568.69 L454.46,568.36 L455.16,567.94 L455.86,567.44 L456.55,566.86 L457.25,566.22 L457.94,565.51 L458.64,564.75 L459.33,563.96 L460.03,563.13 L460.73,562.29 L461.42,561.44 L462.12,560.59 L462.81,559.76 L463.51,558.96 L464.20,558.20 L464.90,557.49 L465.59,556.83 L466.29,556.24 L466.99,555.73 L467.68,555.30 L468.38,554.96 L469.07,554.71 L469.77,554.55 L470.46,554.50 L471.16,554.54 L471.86,554.69 L472.55,554.93 L473.25,555.26 L473.94,555.68 L474.64,556.19 L475.33,556.77 L476.03,557.42 L476.73,558.12 L477.42,558.88 L478.12,559.68 L478.81,560.51 L479.51,561.35 L480.20,562.20 L480.90,563.05 L481.59,563.87 L482.29,564.67 L482.99,565.43 L483.68,566.15 L484.38,566.80 L485.07,567.38 L485.77,567.89 L486.46,568.32 L487.16,568.66 L487.86,568.90 L488.55,569.05 L489.25,569.10 L489.94,569.05 L490.64,568.90 L491.33,568.66 L492.03,568.32 L492.72,567.90 L493.42,567.39 L494.12,566.81 L494.81,566.15 L495.51,565.44 L496.20,564.68 L496.90,563.88 L497.59,563.06 L498.29,562.21 L498.99,561.36 L499.68,560.52 L500.38,559.69 L501.07,558.89 L501.77,558.13 L502.46,557.42 L503.16,556.77 L503.85,556.19 L504.55,555.69 L505.25,555.26 L505.94,554.93 L506.64,554.69 L507.33,554.55 L508.03,554.50 L508.72,554.55 L509.42,554.71 L510.12,554.95 L510.81,555.29 L511.51,555.72 L512.20,556.24 L512.90,556.82 L513.59,557.48 L514.29,558.19 L514.98,558.95 L515.68,559.75 L516.38,560.58 L517.07,561.43 L517.77,562.28 L518.46,563.12 L519.16,563.95 L519.85,564.75 L520.55,565.50 L521.25,566.21 L521.94,566.86 L522.64,567.43 L523.33,567.94 L524.03,568.35 L524.72,568.68 L525.42,568.92 L526.11,569.06 L526.81,569.10 L527.51,569.04 L528.20,568.89 L528.90,568.63 L529.59,568.29 L530.29,567.85 L530.98,567.34 L531.68,566.75 L532.38,566.09 L533.07,565.37 L533.77,564.61 L534.46,563.81 L535.16,562.98 L535.85,562.13 L536.55,561.28 L537.24,560.44 L537.94,559.61 L538.64,558.82 L539.33,558.06 L540.03,557.36 L540.72,556.72 L541.42,556.14 L542.11,555.64 L542.81,555.23 L543.50,554.90 L544.20,554.67 L544.90,554.54 L545.59,554.50 L546.29,554.56 L546.98,554.72 L547.68,554.98 L548.37,555.33 L549.07,555.77 L549.77,556.29 L550.46,556.88 L551.16,557.54 L551.85,558.26 L552.55,559.03 L553.24,559.83 L553.94,560.66 L554.63,561.51 L555.33,562.36 L556.03,563.20 L556.72,564.02 L557.42,564.82 L558.11,565.57 L558.81,566.27 L559.50,566.91 L560.20,567.48" fill="none" stroke="#C9161D" stroke-width="3.8" stroke-linejoin="round" stroke-linecap="butt"/>
<path d="M448.90,555.52 L449.60,556.00 L450.29,556.56 L450.99,557.18 L451.68,557.87 L452.38,558.61 L453.07,559.40 L453.77,560.22 L454.46,561.06 L455.16,561.90 L455.86,562.75 L456.55,563.59 L457.25,564.40 L457.94,565.17 L458.64,565.90 L459.33,566.58 L460.03,567.19 L460.73,567.72 L461.42,568.18 L462.12,568.55 L462.81,568.83 L463.51,569.01 L464.20,569.09" fill="none" stroke="#730D11" stroke-width="3.8" stroke-linejoin="round"/>
<path d="M483.68,554.52 L484.38,554.64 L485.07,554.86 L485.77,555.17 L486.46,555.56 L487.16,556.05 L487.86,556.61 L488.55,557.24 L489.25,557.94 L489.94,558.68 L490.64,559.47 L491.33,560.29 L492.03,561.13 L492.72,561.98 L493.42,562.83 L494.12,563.66 L494.81,564.47 L495.51,565.24 L496.20,565.97 L496.90,566.64 L497.59,567.24 L498.29,567.77 L498.99,568.22 L499.68,568.58 L500.38,568.85 L501.07,569.02 L501.77,569.10" fill="none" stroke="#730D11" stroke-width="3.8" stroke-linejoin="round"/>
<path d="M521.25,554.53 L521.94,554.66 L522.64,554.88 L523.33,555.20 L524.03,555.61 L524.72,556.10 L525.42,556.67 L526.11,557.30 L526.81,558.00 L527.51,558.75 L528.20,559.55 L528.90,560.37 L529.59,561.21 L530.29,562.06 L530.98,562.91 L531.68,563.74 L532.38,564.54 L533.07,565.31 L533.77,566.03 L534.46,566.70 L535.16,567.29 L535.85,567.81 L536.55,568.25 L537.24,568.61 L537.94,568.87 L538.64,569.03 L539.33,569.10" fill="none" stroke="#730D11" stroke-width="3.8" stroke-linejoin="round"/>
<path d="M558.81,554.54 L559.50,554.67 L560.20,554.91" fill="none" stroke="#730D11" stroke-width="3.8" stroke-linejoin="round"/>
<ellipse cx="841.6" cy="426.3" rx="2.4" ry="2.0" fill="#A8849E"/>
<ellipse cx="857.2" cy="424.2" rx="2.4" ry="2.0" fill="#A8849E"/>
<ellipse cx="826.4" cy="435.6" rx="2.4" ry="2.0" fill="#A8849E"/>
<ellipse cx="846.7" cy="437.5" rx="2.4" ry="2.0" fill="#A8849E"/>
<ellipse cx="867" cy="437.5" rx="2.4" ry="2.0" fill="#A8849E"/>
<ellipse cx="876.9" cy="431.3" rx="2.4" ry="2.0" fill="#A8849E"/>
<ellipse cx="836.9" cy="442.5" rx="2.4" ry="2.0" fill="#A8849E"/>
<ellipse cx="858.1" cy="444.8" rx="2.4" ry="2.0" fill="#A8849E"/>
<ellipse cx="888.9" cy="442.7" rx="2.4" ry="2.0" fill="#A8849E"/>
<ellipse cx="876.9" cy="450.5" rx="2.4" ry="2.0" fill="#A8849E"/>
<ellipse cx="851.4" cy="455.5" rx="2.4" ry="2.0" fill="#A8849E"/>
<ellipse cx="864.7" cy="455.9" rx="2.4" ry="2.0" fill="#A8849E"/>
<ellipse cx="883" cy="461.7" rx="2.4" ry="2.0" fill="#A8849E"/>
<ellipse cx="870.9" cy="468" rx="2.4" ry="2.0" fill="#A8849E"/>
<path d="M808.40,452.30 C809.17,451.85 811.17,450.22 813.00,449.60 C814.83,448.98 817.40,448.40 819.40,448.60 C821.40,448.80 823.18,449.82 825.00,450.80 C826.82,451.78 828.47,453.60 830.30,454.50 C832.13,455.40 833.92,456.07 836.00,456.20 C838.08,456.33 841.67,455.45 842.80,455.30" fill="none" stroke="#7E1519" stroke-width="1.7" stroke-linecap="round"/>
<path d="M808.40,452.30 C809.17,451.85 811.17,450.22 813.00,449.60 C814.83,448.98 817.40,448.40 819.40,448.60 C821.40,448.80 823.18,449.82 825.00,450.80 C826.82,451.78 828.47,453.60 830.30,454.50 C832.13,455.40 833.92,456.07 836.00,456.20 C838.08,456.33 841.67,455.45 842.80,455.30" fill="none" stroke="#7E1519" stroke-width="4.6" stroke-dasharray="1.0 2.3" transform="translate(0.3,2.3)"/>
<path d="M824.00,472.20 C824.83,472.00 827.43,471.15 829.00,471.00 C830.57,470.85 831.82,470.72 833.40,471.30 C834.98,471.88 836.67,473.62 838.50,474.50 C840.33,475.38 842.32,476.38 844.40,476.60 C846.48,476.82 848.67,476.58 851.00,475.80 C853.33,475.02 857.17,472.55 858.40,471.90" fill="none" stroke="#7E1519" stroke-width="1.7" stroke-linecap="round"/>
<path d="M824.00,472.20 C824.83,472.00 827.43,471.15 829.00,471.00 C830.57,470.85 831.82,470.72 833.40,471.30 C834.98,471.88 836.67,473.62 838.50,474.50 C840.33,475.38 842.32,476.38 844.40,476.60 C846.48,476.82 848.67,476.58 851.00,475.80 C853.33,475.02 857.17,472.55 858.40,471.90" fill="none" stroke="#7E1519" stroke-width="4.6" stroke-dasharray="1.0 2.3" transform="translate(0.3,-2.3)"/>
<use href="#capsidA" transform="translate(750.2,318.4)"/>
<path d="M142.2,119.7 L147.5,119.0 L152.7,118.4 L157.9,117.9 L163.0,117.5 L168.1,117.3 L173.1,117.1 L178.0,117.1 L182.9,117.2 L187.6,117.5 L192.3,117.8 L197.0,118.3 L201.5,118.9 L206.0,119.6 L210.4,120.4 L214.7,121.3 L219.0,122.4 L223.1,123.6 L227.2,124.9 L231.1,126.3 L235.0,127.9 L238.8,129.6 L242.5,131.4 L246.0,133.3 L249.5,135.3 L252.9,137.5 L256.2,139.8 L259.4,142.2 L262.5,144.7 L264.6,142.3 L261.4,139.7 L258.1,137.2 L254.7,134.8 L251.2,132.6 L247.6,130.5 L243.9,128.6 L240.1,126.8 L236.2,125.1 L232.2,123.5 L228.1,122.1 L224.0,120.7 L219.7,119.6 L215.4,118.5 L211.0,117.5 L206.5,116.7 L201.9,116.0 L197.3,115.5 L192.6,115.0 L187.8,114.7 L182.9,114.5 L178.0,114.4 L173.0,114.5 L168.0,114.6 L162.9,114.9 L157.7,115.3 L152.4,115.9 L147.2,116.5 L141.8,117.3 Z" fill="url(#ag1)"/><path transform="translate(268.7,148.2) rotate(44.5)" d="M0,0 L-9.2,-4.8 L-8.556,0 L-9.2,4.8 Z" fill="#1B1B1B"/>
<path d="M281.0,291.8 L274.6,291.9 L268.2,292.3 L261.7,292.8 L255.2,293.5 L248.7,294.4 L242.1,295.5 L235.5,296.8 L228.9,298.2 L222.4,299.8 L215.8,301.6 L209.3,303.5 L202.8,305.7 L196.4,308.0 L190.0,310.5 L183.6,313.2 L177.4,316.0 L171.2,319.0 L165.1,322.2 L159.1,325.6 L153.2,329.2 L147.4,332.9 L141.8,336.8 L136.2,340.9 L130.9,345.2 L125.6,349.6 L120.6,354.2 L115.7,359.0 L111.0,364.0 L113.3,366.2 L118.0,361.3 L122.8,356.6 L127.8,352.0 L132.9,347.6 L138.2,343.4 L143.6,339.4 L149.2,335.5 L154.8,331.8 L160.6,328.2 L166.5,324.9 L172.6,321.7 L178.6,318.7 L184.8,315.8 L191.1,313.2 L197.4,310.7 L203.8,308.4 L210.2,306.2 L216.6,304.3 L223.1,302.5 L229.6,300.8 L236.1,299.4 L242.6,298.1 L249.0,297.0 L255.5,296.1 L262.0,295.4 L268.4,294.8 L274.7,294.5 L281.0,294.2 Z" fill="url(#ag2)"/><path transform="translate(107.6,370.3) rotate(130.1)" d="M0,0 L-9.2,-4.8 L-8.556,0 L-9.2,4.8 Z" fill="#1B1B1B"/>
<path d="M81.3,435.6 L80.4,438.5 L79.5,441.5 L78.7,444.5 L78.0,447.4 L77.3,450.5 L76.7,453.5 L76.2,456.5 L75.7,459.6 L75.3,462.7 L75.0,465.8 L74.7,468.9 L74.5,472.0 L74.4,475.1 L74.3,478.3 L74.3,481.4 L74.3,484.6 L74.4,487.8 L74.5,491.0 L74.7,494.2 L75.0,497.5 L75.3,500.7 L75.7,503.9 L76.1,507.2 L76.6,510.5 L77.2,513.8 L77.8,517.0 L78.4,520.3 L79.1,523.6 L82.3,522.9 L81.6,519.7 L80.9,516.4 L80.3,513.2 L79.8,510.0 L79.3,506.8 L78.8,503.5 L78.4,500.4 L78.1,497.2 L77.8,494.0 L77.5,490.8 L77.4,487.7 L77.3,484.5 L77.2,481.4 L77.2,478.3 L77.2,475.2 L77.4,472.1 L77.5,469.1 L77.8,466.0 L78.1,463.0 L78.4,460.0 L78.9,456.9 L79.4,454.0 L79.9,451.0 L80.5,448.0 L81.2,445.1 L82.0,442.2 L82.8,439.3 L83.7,436.4 Z" fill="url(#ag3)"/><path transform="translate(82.3,530) rotate(75.9)" d="M0,0 L-9.2,-4.8 L-8.556,0 L-9.2,4.8 Z" fill="#1B1B1B"/>
<path d="M118.1,607.4 L122.4,611.4 L126.9,615.3 L131.7,619.1 L136.7,622.7 L142.1,626.2 L147.6,629.6 L153.5,632.8 L159.5,635.9 L165.8,638.9 L172.4,641.7 L179.2,644.4 L186.2,646.9 L193.4,649.3 L200.9,651.5 L208.6,653.6 L216.5,655.5 L224.6,657.3 L232.9,658.9 L241.4,660.3 L250.1,661.6 L259.0,662.8 L268.1,663.7 L277.4,664.5 L286.8,665.2 L296.4,665.6 L306.2,665.9 L316.2,666.0 L326.3,665.9 L326.2,662.7 L316.2,662.8 L306.3,662.7 L296.5,662.4 L287.0,662.0 L277.6,661.4 L268.4,660.6 L259.4,659.7 L250.5,658.6 L241.9,657.3 L233.4,655.9 L225.2,654.3 L217.1,652.6 L209.3,650.7 L201.7,648.7 L194.3,646.5 L187.1,644.2 L180.2,641.7 L173.5,639.1 L167.0,636.3 L160.7,633.4 L154.7,630.4 L149.0,627.3 L143.5,624.0 L138.2,620.5 L133.2,617.0 L128.5,613.3 L124.1,609.5 L119.9,605.6 Z" fill="url(#ag4)"/><path transform="translate(333.3,664.1) rotate(-1.7)" d="M0,0 L-9.2,-4.8 L-8.556,0 L-9.2,4.8 Z" fill="#1B1B1B"/>
<path d="M459.9,660.7 L464.2,661.1 L468.3,661.2 L472.2,661.2 L475.9,661.0 L479.3,660.6 L482.6,659.9 L485.6,659.1 L488.4,658.1 L491.1,656.8 L493.6,655.3 L495.8,653.6 L497.9,651.7 L499.8,649.5 L501.5,647.2 L503.1,644.6 L504.5,641.8 L505.7,638.7 L506.7,635.5 L507.6,632.0 L508.4,628.3 L509.1,624.4 L509.6,620.2 L510.1,615.8 L510.4,611.2 L510.6,606.3 L510.7,601.2 L510.7,595.8 L510.7,590.2 L507.5,590.3 L507.5,595.9 L507.5,601.2 L507.4,606.2 L507.2,611.0 L506.9,615.6 L506.5,619.9 L506.0,623.9 L505.4,627.8 L504.7,631.3 L503.8,634.6 L502.9,637.7 L501.7,640.6 L500.5,643.2 L499.1,645.6 L497.6,647.7 L495.9,649.7 L494.0,651.5 L492.0,653.0 L489.8,654.4 L487.4,655.5 L484.8,656.5 L481.9,657.3 L478.9,657.9 L475.6,658.4 L472.1,658.6 L468.4,658.7 L464.4,658.6 L460.1,658.3 Z" fill="url(#ag5)"/><path transform="translate(508.9,583.2) rotate(-91.7)" d="M0,0 L-9.2,-4.8 L-8.556,0 L-9.2,4.8 Z" fill="#1B1B1B"/>
<path d="M500.4,544.1 L498.3,541.8 L496.4,539.5 L494.5,537.2 L492.8,534.8 L491.1,532.3 L489.6,529.9 L488.2,527.4 L486.9,524.9 L485.7,522.3 L484.6,519.7 L483.6,517.1 L482.7,514.5 L482.0,511.8 L481.3,509.0 L480.8,506.3 L480.3,503.5 L480.0,500.7 L479.8,497.8 L479.8,494.9 L479.8,492.0 L480.0,489.0 L480.2,486.0 L480.6,482.9 L481.1,479.8 L481.8,476.7 L482.5,473.5 L483.4,470.3 L484.4,467.0 L481.3,466.1 L480.3,469.4 L479.4,472.7 L478.7,476.0 L478.0,479.3 L477.5,482.5 L477.1,485.7 L476.9,488.8 L476.7,491.9 L476.7,494.9 L476.8,498.0 L477.1,501.0 L477.4,503.9 L477.9,506.8 L478.5,509.7 L479.2,512.5 L480.0,515.3 L480.9,518.1 L482.0,520.8 L483.2,523.5 L484.4,526.1 L485.8,528.7 L487.3,531.3 L488.9,533.8 L490.7,536.3 L492.5,538.7 L494.4,541.1 L496.4,543.5 L498.6,545.9 Z" fill="url(#ag6)"/><path transform="translate(485.2,460) rotate(-68.8)" d="M0,0 L-9.2,-4.8 L-8.556,0 L-9.2,4.8 Z" fill="#1B1B1B"/>
<path d="M597.3,463.5 L603.9,467.9 L610.7,471.9 L617.6,475.7 L624.8,479.3 L632.1,482.6 L639.5,485.6 L647.1,488.3 L654.8,490.8 L662.6,493.0 L670.5,494.9 L678.4,496.6 L686.5,498.0 L694.5,499.0 L702.6,499.9 L710.7,500.4 L718.9,500.7 L727.0,500.6 L735.1,500.3 L743.1,499.7 L751.1,498.8 L759.0,497.6 L766.9,496.1 L774.6,494.3 L782.3,492.2 L789.8,489.7 L797.1,487.0 L804.4,484.0 L811.4,480.7 L810.0,477.8 L803.1,481.1 L796.0,484.0 L788.7,486.7 L781.3,489.1 L773.8,491.2 L766.2,493.0 L758.5,494.5 L750.7,495.7 L742.8,496.6 L734.9,497.3 L726.9,497.6 L718.9,497.7 L710.9,497.5 L702.9,497.0 L694.9,496.2 L686.9,495.1 L679.0,493.8 L671.1,492.2 L663.3,490.3 L655.6,488.2 L648.0,485.8 L640.5,483.1 L633.1,480.1 L625.9,476.9 L618.8,473.4 L611.9,469.7 L605.2,465.7 L598.7,461.5 Z" fill="url(#ag7)"/><path transform="translate(816.8,476) rotate(-29.1)" d="M0,0 L-9.2,-4.8 L-8.556,0 L-9.2,4.8 Z" fill="#1B1B1B"/>
<path d="M866.7,405.8 L866.1,402.1 L865.4,398.5 L864.5,395.0 L863.6,391.6 L862.5,388.2 L861.2,384.9 L859.9,381.7 L858.4,378.6 L856.8,375.5 L855.0,372.5 L853.1,369.7 L851.1,366.9 L848.9,364.2 L846.5,361.6 L844.1,359.1 L841.4,356.6 L838.7,354.3 L835.7,352.1 L832.7,349.9 L829.4,347.9 L826.0,346.0 L822.5,344.1 L818.8,342.4 L814.9,340.7 L810.8,339.2 L806.6,337.8 L802.2,336.5 L797.7,335.3 L796.9,338.4 L801.4,339.6 L805.6,340.8 L809.8,342.2 L813.7,343.7 L817.5,345.3 L821.1,346.9 L824.5,348.7 L827.8,350.5 L831.0,352.5 L834.0,354.5 L836.8,356.6 L839.5,358.9 L842.0,361.2 L844.4,363.6 L846.7,366.1 L848.8,368.6 L850.8,371.3 L852.7,374.0 L854.4,376.9 L856.0,379.8 L857.4,382.8 L858.8,385.9 L860.0,389.1 L861.1,392.3 L862.0,395.7 L862.9,399.1 L863.6,402.6 L864.3,406.2 Z" fill="url(#ag8)"/><path transform="translate(790.5,335.3) rotate(-168.5)" d="M0,0 L-9.2,-4.8 L-8.556,0 L-9.2,4.8 Z" fill="#1B1B1B"/>
<path d="M714.0,305.8 L710.7,305.7 L707.4,305.6 L704.3,305.4 L701.3,305.1 L698.3,304.8 L695.5,304.4 L692.7,303.9 L690.0,303.3 L687.4,302.6 L684.9,301.9 L682.5,301.0 L680.1,300.1 L677.8,299.0 L675.6,297.9 L673.5,296.7 L671.4,295.3 L669.5,293.9 L667.5,292.3 L665.7,290.7 L663.9,288.9 L662.2,287.0 L660.5,284.9 L658.9,282.8 L657.3,280.5 L655.8,278.0 L654.4,275.5 L653.0,272.8 L651.6,269.9 L648.7,271.2 L650.1,274.2 L651.6,277.0 L653.1,279.7 L654.7,282.2 L656.3,284.6 L658.0,286.9 L659.8,289.0 L661.7,291.0 L663.6,292.9 L665.6,294.6 L667.6,296.3 L669.8,297.8 L672.0,299.2 L674.2,300.5 L676.6,301.6 L679.0,302.7 L681.5,303.7 L684.0,304.5 L686.7,305.3 L689.4,306.0 L692.2,306.5 L695.0,307.0 L698.0,307.4 L701.0,307.7 L704.1,308.0 L707.3,308.1 L710.6,308.2 L714.0,308.2 Z" fill="url(#ag9)"/><path transform="translate(647.5,264.2) rotate(-110.9)" d="M0,0 L-9.2,-4.8 L-8.556,0 L-9.2,4.8 Z" fill="#1B1B1B"/>
<path d="M663.7,150.4 L664.5,147.9 L665.6,145.6 L666.8,143.3 L668.1,141.2 L669.7,139.3 L671.5,137.4 L673.5,135.6 L675.8,133.9 L678.3,132.3 L681.1,130.8 L684.2,129.4 L687.6,128.1 L691.3,126.9 L695.3,125.8 L699.6,124.8 L704.3,123.9 L709.4,123.0 L714.8,122.3 L720.6,121.6 L726.8,121.0 L733.4,120.5 L740.4,120.1 L747.8,119.8 L755.7,119.6 L764.0,119.4 L772.8,119.3 L782.1,119.3 L791.8,119.3 L791.8,116.1 L782.1,116.1 L772.8,116.1 L764.0,116.2 L755.6,116.4 L747.7,116.7 L740.2,117.0 L733.2,117.4 L726.5,118.0 L720.3,118.6 L714.4,119.3 L708.9,120.1 L703.8,121.0 L699.0,121.9 L694.6,123.0 L690.4,124.2 L686.6,125.5 L683.1,126.8 L679.9,128.3 L676.9,129.9 L674.3,131.7 L671.8,133.5 L669.7,135.5 L667.7,137.5 L666.0,139.7 L664.5,142.0 L663.3,144.5 L662.2,147.0 L661.3,149.6 Z" fill="url(#ag10)"/><path transform="translate(798.8,117.8) rotate(0.8)" d="M0,0 L-9.2,-4.8 L-8.556,0 L-9.2,4.8 Z" fill="#1B1B1B"/>
<text x="65.6" y="40.2" font-size="16.0" font-weight="normal" fill="#262626" stroke="#262626" stroke-width="0.2" textLength="24.6" lengthAdjust="spacingAndGlyphs">HIV</text>
<text x="177.9" y="41.7" font-size="15.2" font-weight="bold" fill="#FFFFFF" stroke="#FFFFFF" stroke-width="0.3" textLength="89.8" lengthAdjust="spacingAndGlyphs">CCR5/CXCR4</text>
<text x="191.5" y="58.9" font-size="15.2" font-weight="bold" fill="#FFFFFF" stroke="#FFFFFF" stroke-width="0.3" textLength="63.1" lengthAdjust="spacingAndGlyphs">Inhibitors</text>
<circle cx="268.2" cy="106.8" r="14.1" fill="#FFFFFF" stroke="#333336" stroke-width="1.7"/><text x="268.5" y="112" font-size="14.6" font-weight="bold" fill="#1C1C1C" stroke="#1C1C1C" stroke-width="0.3" text-anchor="middle">1</text>
<text x="289.8" y="110.0" font-size="15.2" font-weight="bold" fill="#1C1C1C" stroke="#1C1C1C" stroke-width="0.3" textLength="53.4" lengthAdjust="spacingAndGlyphs">Binding</text>
<text x="45.4" y="217.0" font-size="15.2" font-weight="bold" fill="#1C1C1C" stroke="#1C1C1C" stroke-width="0.3" textLength="29.1" lengthAdjust="spacingAndGlyphs">CD4</text>
<text x="154.3" y="243.0" font-size="15.2" font-weight="bold" fill="#1C1C1C" stroke="#1C1C1C" stroke-width="0.3" textLength="38.5" lengthAdjust="spacingAndGlyphs">CCR5</text>
<text x="461.0" y="190.5" font-size="15.2" font-weight="bold" fill="#FFFFFF" stroke="#FFFFFF" stroke-width="0.3" textLength="45.5" lengthAdjust="spacingAndGlyphs">Fusion</text>
<text x="451.3" y="208.0" font-size="15.2" font-weight="bold" fill="#FFFFFF" stroke="#FFFFFF" stroke-width="0.3" textLength="64.6" lengthAdjust="spacingAndGlyphs">Inhibitors</text>
<text x="643.3" y="56.8" font-size="15.2" font-weight="bold" fill="#FFFFFF" stroke="#FFFFFF" stroke-width="0.3" textLength="126.8" lengthAdjust="spacingAndGlyphs">Protease inhibitors</text>
<circle cx="349.5" cy="286.1" r="14.1" fill="#FFFFFF" stroke="#333336" stroke-width="1.7"/><text x="349.8" y="291" font-size="14.6" font-weight="bold" fill="#1C1C1C" stroke="#1C1C1C" stroke-width="0.3" text-anchor="middle">2</text>
<text x="370.7" y="290.2" font-size="15.2" font-weight="bold" fill="#1C1C1C" stroke="#1C1C1C" stroke-width="0.3" textLength="46.6" lengthAdjust="spacingAndGlyphs">Fusion</text>
<text x="69.2" y="423.2" font-size="16.0" font-weight="normal" fill="#262626" stroke="#262626" stroke-width="0.2" textLength="64.9" lengthAdjust="spacingAndGlyphs">Viral RNA</text>
<circle cx="103.4" cy="459.2" r="14.1" fill="#FFFFFF" stroke="#333336" stroke-width="1.7"/><text x="103.7" y="464" font-size="14.6" font-weight="bold" fill="#1C1C1C" stroke="#1C1C1C" stroke-width="0.3" text-anchor="middle">3</text>
<text x="125.5" y="459.0" font-size="15.2" font-weight="bold" fill="#1C1C1C" stroke="#1C1C1C" stroke-width="0.3" textLength="150.6" lengthAdjust="spacingAndGlyphs">Reverse transcription</text>
<text x="165.5" y="504.9" font-size="15.2" font-weight="bold" fill="#FFFFFF" stroke="#FFFFFF" stroke-width="0.3" textLength="40.5" lengthAdjust="spacingAndGlyphs">NRTIs</text>
<text x="160.0" y="521.3" font-size="15.2" font-weight="bold" fill="#FFFFFF" stroke="#FFFFFF" stroke-width="0.3" textLength="50.9" lengthAdjust="spacingAndGlyphs">NNRTIs</text>
<text x="71.8" y="589.0" font-size="16.0" font-weight="normal" fill="#262626" stroke="#262626" stroke-width="0.2" textLength="66.0" lengthAdjust="spacingAndGlyphs">Viral DNA</text>
<text x="484.0" y="404.2" font-size="16.0" font-weight="normal" fill="#777777" stroke="#777777" stroke-width="0.2" textLength="55.6" lengthAdjust="spacingAndGlyphs">Nucleus</text>
<circle cx="506.5" cy="503.2" r="14.1" fill="#FFFFFF" stroke="#333336" stroke-width="1.7"/><text x="506.8" y="508" font-size="14.6" font-weight="bold" fill="#1C1C1C" stroke="#1C1C1C" stroke-width="0.3" text-anchor="middle">5</text>
<text x="528.3" y="507.0" font-size="15.2" font-weight="bold" fill="#1C1C1C" stroke="#1C1C1C" stroke-width="0.3" textLength="93.5" lengthAdjust="spacingAndGlyphs">Transcription</text>
<circle cx="541.6" cy="599.9" r="14.1" fill="#FFFFFF" stroke="#333336" stroke-width="1.7"/><text x="541.9" y="605" font-size="14.6" font-weight="bold" fill="#1C1C1C" stroke="#1C1C1C" stroke-width="0.3" text-anchor="middle">4</text>
<text x="562.7" y="603.0" font-size="15.2" font-weight="bold" fill="#1C1C1C" stroke="#1C1C1C" stroke-width="0.3" textLength="77.8" lengthAdjust="spacingAndGlyphs">Integration</text>
<text x="570.3" y="652.0" font-size="15.2" font-weight="bold" fill="#FFFFFF" stroke="#FFFFFF" stroke-width="0.3" textLength="45.4" lengthAdjust="spacingAndGlyphs">INSTIs</text>
<circle cx="798.2" cy="524.9" r="14.1" fill="#FFFFFF" stroke="#333336" stroke-width="1.7"/><text x="798.5" y="530" font-size="14.6" font-weight="bold" fill="#1C1C1C" stroke="#1C1C1C" stroke-width="0.3" text-anchor="middle">6</text>
<text x="820.3" y="528.0" font-size="15.2" font-weight="bold" fill="#1C1C1C" stroke="#1C1C1C" stroke-width="0.3" textLength="79.3" lengthAdjust="spacingAndGlyphs">Translation</text>
<circle cx="872.8" cy="352.9" r="14.1" fill="#FFFFFF" stroke="#333336" stroke-width="1.7"/><text x="873.0999999999999" y="358" font-size="14.6" font-weight="bold" fill="#1C1C1C" stroke="#1C1C1C" stroke-width="0.3" text-anchor="middle">7</text>
<text x="894.6" y="357.0" font-size="15.2" font-weight="bold" fill="#1C1C1C" stroke="#1C1C1C" stroke-width="0.3" textLength="69.6" lengthAdjust="spacingAndGlyphs">Assembly</text>
<text x="715.1" y="371.0" font-size="16.0" font-weight="normal" fill="#262626" stroke="#262626" stroke-width="0.2" textLength="70.2" lengthAdjust="spacingAndGlyphs">Virus core</text>
<text x="718.3" y="388.0" font-size="16.0" font-weight="normal" fill="#262626" stroke="#262626" stroke-width="0.2" textLength="63.2" lengthAdjust="spacingAndGlyphs">structure</text>
<text x="933.0" y="288.0" font-size="16.0" font-weight="normal" fill="#777777" stroke="#777777" stroke-width="0.2" textLength="74.8" lengthAdjust="spacingAndGlyphs">Cytoplasm</text>
<circle cx="730.8" cy="223.9" r="14.1" fill="#FFFFFF" stroke="#333336" stroke-width="1.7"/><text x="731.0999999999999" y="229" font-size="14.6" font-weight="bold" fill="#1C1C1C" stroke="#1C1C1C" stroke-width="0.3" text-anchor="middle">8</text>
<text x="752.4" y="228.0" font-size="15.2" font-weight="bold" fill="#1C1C1C" stroke="#1C1C1C" stroke-width="0.3" textLength="58.4" lengthAdjust="spacingAndGlyphs">Budding</text>
<circle cx="894.1" cy="170.6" r="14.1" fill="#FFFFFF" stroke="#333336" stroke-width="1.7"/><text x="894.4" y="176" font-size="14.6" font-weight="bold" fill="#1C1C1C" stroke="#1C1C1C" stroke-width="0.3" text-anchor="middle">9</text>
<text x="914.0" y="175.0" font-size="15.2" font-weight="bold" fill="#1C1C1C" stroke="#1C1C1C" stroke-width="0.3" textLength="69.9" lengthAdjust="spacingAndGlyphs">Release &amp;</text>
<text x="914.0" y="193.0" font-size="15.2" font-weight="bold" fill="#1C1C1C" stroke="#1C1C1C" stroke-width="0.3" textLength="77.2" lengthAdjust="spacingAndGlyphs">Maturation</text>
<rect x="1023" y="0" width="1" height="717" fill="#FFFFFF"/>
</svg>
</body></html>
